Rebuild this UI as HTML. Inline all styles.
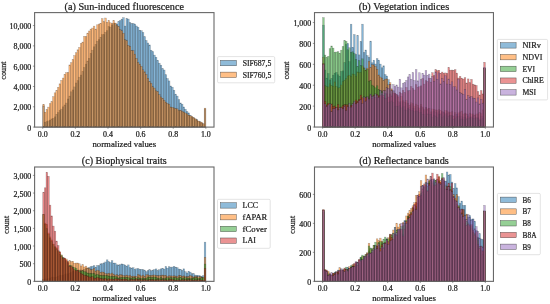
<!DOCTYPE html><html><head><meta charset="utf-8"><title>Histograms</title><style>html,body{margin:0;padding:0;background:#fff}svg{display:block}text{font-family:"Liberation Serif",serif;fill:#1a1a1a;stroke:#1a1a1a;stroke-width:0.22px}</style></head><body>
<svg width="550" height="304" viewBox="0 0 550 304">
<rect width="550" height="304" fill="#fff"/>
<g fill="#1f77b4" fill-opacity="0.55" stroke="#000000" stroke-opacity="0.3" stroke-width="0.5">
<rect x="42.75" y="105.77" width="1.63" height="21.33"/>
<rect x="44.39" y="122.22" width="1.63" height="4.88"/>
<rect x="46.02" y="121.60" width="1.63" height="5.50"/>
<rect x="47.65" y="120.90" width="1.63" height="6.20"/>
<rect x="49.28" y="120.10" width="1.63" height="7.00"/>
<rect x="50.91" y="118.88" width="1.63" height="8.22"/>
<rect x="52.54" y="118.29" width="1.63" height="8.81"/>
<rect x="54.17" y="116.84" width="1.63" height="10.26"/>
<rect x="55.80" y="114.38" width="1.63" height="12.72"/>
<rect x="57.43" y="112.48" width="1.63" height="14.62"/>
<rect x="59.06" y="110.40" width="1.63" height="16.70"/>
<rect x="60.69" y="109.12" width="1.63" height="17.98"/>
<rect x="62.33" y="106.82" width="1.63" height="20.28"/>
<rect x="63.96" y="104.95" width="1.63" height="22.15"/>
<rect x="65.59" y="103.01" width="1.63" height="24.09"/>
<rect x="67.22" y="98.96" width="1.63" height="28.14"/>
<rect x="68.85" y="96.06" width="1.63" height="31.04"/>
<rect x="70.48" y="91.80" width="1.63" height="35.30"/>
<rect x="72.11" y="89.88" width="1.63" height="37.22"/>
<rect x="73.74" y="86.91" width="1.63" height="40.19"/>
<rect x="75.37" y="82.97" width="1.63" height="44.13"/>
<rect x="77.00" y="80.66" width="1.63" height="46.44"/>
<rect x="78.63" y="77.16" width="1.63" height="49.94"/>
<rect x="80.27" y="75.03" width="1.63" height="52.07"/>
<rect x="81.90" y="71.44" width="1.63" height="55.66"/>
<rect x="83.53" y="67.45" width="1.63" height="59.65"/>
<rect x="85.16" y="64.12" width="1.63" height="62.98"/>
<rect x="86.79" y="60.99" width="1.63" height="66.11"/>
<rect x="88.42" y="58.34" width="1.63" height="68.76"/>
<rect x="90.05" y="53.32" width="1.63" height="73.78"/>
<rect x="91.68" y="50.18" width="1.63" height="76.92"/>
<rect x="93.31" y="46.81" width="1.63" height="80.29"/>
<rect x="94.94" y="44.47" width="1.63" height="82.63"/>
<rect x="96.57" y="41.13" width="1.63" height="85.97"/>
<rect x="98.21" y="39.69" width="1.63" height="87.41"/>
<rect x="99.84" y="37.21" width="1.63" height="89.89"/>
<rect x="101.47" y="34.68" width="1.63" height="92.42"/>
<rect x="103.10" y="34.46" width="1.63" height="92.64"/>
<rect x="104.73" y="32.21" width="1.63" height="94.89"/>
<rect x="106.36" y="30.72" width="1.63" height="96.38"/>
<rect x="107.99" y="26.60" width="1.63" height="100.50"/>
<rect x="109.62" y="27.01" width="1.63" height="100.09"/>
<rect x="111.25" y="24.89" width="1.63" height="102.21"/>
<rect x="112.88" y="23.73" width="1.63" height="103.37"/>
<rect x="114.51" y="23.54" width="1.63" height="103.56"/>
<rect x="116.15" y="24.01" width="1.63" height="103.09"/>
<rect x="117.78" y="21.49" width="1.63" height="105.61"/>
<rect x="119.41" y="20.47" width="1.63" height="106.63"/>
<rect x="121.04" y="19.13" width="1.63" height="107.97"/>
<rect x="122.67" y="17.68" width="1.63" height="109.42"/>
<rect x="124.30" y="26.06" width="1.63" height="101.04"/>
<rect x="125.93" y="18.44" width="1.63" height="108.66"/>
<rect x="127.56" y="19.05" width="1.63" height="108.05"/>
<rect x="129.19" y="22.46" width="1.63" height="104.64"/>
<rect x="130.82" y="23.64" width="1.63" height="103.46"/>
<rect x="132.45" y="23.46" width="1.63" height="103.64"/>
<rect x="134.09" y="24.04" width="1.63" height="103.06"/>
<rect x="135.72" y="25.98" width="1.63" height="101.12"/>
<rect x="137.35" y="27.20" width="1.63" height="99.90"/>
<rect x="138.98" y="30.21" width="1.63" height="96.89"/>
<rect x="140.61" y="30.72" width="1.63" height="96.38"/>
<rect x="142.24" y="32.43" width="1.63" height="94.67"/>
<rect x="143.87" y="36.73" width="1.63" height="90.37"/>
<rect x="145.50" y="40.46" width="1.63" height="86.64"/>
<rect x="147.13" y="43.02" width="1.63" height="84.08"/>
<rect x="148.76" y="44.93" width="1.63" height="82.17"/>
<rect x="150.39" y="50.22" width="1.63" height="76.88"/>
<rect x="152.03" y="51.55" width="1.63" height="75.55"/>
<rect x="153.66" y="55.12" width="1.63" height="71.98"/>
<rect x="155.29" y="57.27" width="1.63" height="69.83"/>
<rect x="156.92" y="60.26" width="1.63" height="66.84"/>
<rect x="158.55" y="63.18" width="1.63" height="63.92"/>
<rect x="160.18" y="65.21" width="1.63" height="61.89"/>
<rect x="161.81" y="68.59" width="1.63" height="58.51"/>
<rect x="163.44" y="70.04" width="1.63" height="57.06"/>
<rect x="165.07" y="74.73" width="1.63" height="52.37"/>
<rect x="166.70" y="78.54" width="1.63" height="48.56"/>
<rect x="168.33" y="80.92" width="1.63" height="46.18"/>
<rect x="169.97" y="85.97" width="1.63" height="41.13"/>
<rect x="171.60" y="87.19" width="1.63" height="39.91"/>
<rect x="173.23" y="90.24" width="1.63" height="36.86"/>
<rect x="174.86" y="94.18" width="1.63" height="32.92"/>
<rect x="176.49" y="96.11" width="1.63" height="30.99"/>
<rect x="178.12" y="99.59" width="1.63" height="27.51"/>
<rect x="179.75" y="102.96" width="1.63" height="24.14"/>
<rect x="181.38" y="104.18" width="1.63" height="22.92"/>
<rect x="183.01" y="106.96" width="1.63" height="20.14"/>
<rect x="184.64" y="109.23" width="1.63" height="17.87"/>
<rect x="186.27" y="111.45" width="1.63" height="15.65"/>
<rect x="187.91" y="112.87" width="1.63" height="14.23"/>
<rect x="189.54" y="115.23" width="1.63" height="11.87"/>
<rect x="191.17" y="116.99" width="1.63" height="10.11"/>
<rect x="192.80" y="117.83" width="1.63" height="9.27"/>
<rect x="194.43" y="119.43" width="1.63" height="7.67"/>
<rect x="196.06" y="119.55" width="1.63" height="7.55"/>
<rect x="197.69" y="121.18" width="1.63" height="5.92"/>
<rect x="199.32" y="121.82" width="1.63" height="5.28"/>
<rect x="200.95" y="123.02" width="1.63" height="4.08"/>
<rect x="202.58" y="123.83" width="1.63" height="3.27"/>
<rect x="204.21" y="108.82" width="1.63" height="18.28"/>
</g>
<g fill="#ff7f0e" fill-opacity="0.55" stroke="#000000" stroke-opacity="0.3" stroke-width="0.5">
<rect x="42.75" y="104.25" width="1.63" height="22.85"/>
<rect x="44.39" y="112.23" width="1.63" height="14.87"/>
<rect x="46.02" y="109.42" width="1.63" height="17.68"/>
<rect x="47.65" y="107.13" width="1.63" height="19.97"/>
<rect x="49.28" y="103.60" width="1.63" height="23.50"/>
<rect x="50.91" y="101.54" width="1.63" height="25.56"/>
<rect x="52.54" y="96.69" width="1.63" height="30.41"/>
<rect x="54.17" y="92.79" width="1.63" height="34.31"/>
<rect x="55.80" y="90.36" width="1.63" height="36.74"/>
<rect x="57.43" y="87.32" width="1.63" height="39.78"/>
<rect x="59.06" y="83.81" width="1.63" height="43.29"/>
<rect x="60.69" y="80.41" width="1.63" height="46.69"/>
<rect x="62.33" y="78.06" width="1.63" height="49.04"/>
<rect x="63.96" y="74.31" width="1.63" height="52.79"/>
<rect x="65.59" y="72.65" width="1.63" height="54.45"/>
<rect x="67.22" y="72.46" width="1.63" height="54.64"/>
<rect x="68.85" y="64.93" width="1.63" height="62.17"/>
<rect x="70.48" y="62.63" width="1.63" height="64.47"/>
<rect x="72.11" y="59.37" width="1.63" height="67.73"/>
<rect x="73.74" y="55.61" width="1.63" height="71.49"/>
<rect x="75.37" y="52.73" width="1.63" height="74.37"/>
<rect x="77.00" y="49.77" width="1.63" height="77.33"/>
<rect x="78.63" y="47.39" width="1.63" height="79.71"/>
<rect x="80.27" y="43.34" width="1.63" height="83.76"/>
<rect x="81.90" y="42.07" width="1.63" height="85.03"/>
<rect x="83.53" y="36.36" width="1.63" height="90.74"/>
<rect x="85.16" y="36.57" width="1.63" height="90.53"/>
<rect x="86.79" y="33.15" width="1.63" height="93.95"/>
<rect x="88.42" y="30.98" width="1.63" height="96.12"/>
<rect x="90.05" y="29.13" width="1.63" height="97.97"/>
<rect x="91.68" y="28.07" width="1.63" height="99.03"/>
<rect x="93.31" y="26.13" width="1.63" height="100.97"/>
<rect x="94.94" y="29.11" width="1.63" height="97.99"/>
<rect x="96.57" y="24.80" width="1.63" height="102.30"/>
<rect x="98.21" y="24.04" width="1.63" height="103.06"/>
<rect x="99.84" y="23.23" width="1.63" height="103.87"/>
<rect x="101.47" y="18.64" width="1.63" height="108.46"/>
<rect x="103.10" y="21.55" width="1.63" height="105.55"/>
<rect x="104.73" y="18.03" width="1.63" height="109.07"/>
<rect x="106.36" y="22.31" width="1.63" height="104.79"/>
<rect x="107.99" y="20.35" width="1.63" height="106.75"/>
<rect x="109.62" y="22.78" width="1.63" height="104.32"/>
<rect x="111.25" y="23.46" width="1.63" height="103.64"/>
<rect x="112.88" y="20.32" width="1.63" height="106.78"/>
<rect x="114.51" y="23.05" width="1.63" height="104.05"/>
<rect x="116.15" y="25.18" width="1.63" height="101.92"/>
<rect x="117.78" y="26.38" width="1.63" height="100.72"/>
<rect x="119.41" y="29.45" width="1.63" height="97.65"/>
<rect x="121.04" y="30.74" width="1.63" height="96.36"/>
<rect x="122.67" y="33.22" width="1.63" height="93.88"/>
<rect x="124.30" y="39.63" width="1.63" height="87.47"/>
<rect x="125.93" y="40.55" width="1.63" height="86.55"/>
<rect x="127.56" y="45.34" width="1.63" height="81.76"/>
<rect x="129.19" y="46.48" width="1.63" height="80.62"/>
<rect x="130.82" y="50.38" width="1.63" height="76.72"/>
<rect x="132.45" y="50.62" width="1.63" height="76.48"/>
<rect x="134.09" y="54.20" width="1.63" height="72.90"/>
<rect x="135.72" y="58.43" width="1.63" height="68.67"/>
<rect x="137.35" y="62.38" width="1.63" height="64.72"/>
<rect x="138.98" y="64.21" width="1.63" height="62.89"/>
<rect x="140.61" y="66.36" width="1.63" height="60.74"/>
<rect x="142.24" y="69.78" width="1.63" height="57.32"/>
<rect x="143.87" y="71.76" width="1.63" height="55.34"/>
<rect x="145.50" y="74.41" width="1.63" height="52.69"/>
<rect x="147.13" y="78.34" width="1.63" height="48.76"/>
<rect x="148.76" y="81.46" width="1.63" height="45.64"/>
<rect x="150.39" y="83.29" width="1.63" height="43.81"/>
<rect x="152.03" y="86.67" width="1.63" height="40.43"/>
<rect x="153.66" y="88.11" width="1.63" height="38.99"/>
<rect x="155.29" y="90.80" width="1.63" height="36.30"/>
<rect x="156.92" y="91.59" width="1.63" height="35.51"/>
<rect x="158.55" y="94.65" width="1.63" height="32.45"/>
<rect x="160.18" y="96.99" width="1.63" height="30.11"/>
<rect x="161.81" y="98.25" width="1.63" height="28.85"/>
<rect x="163.44" y="100.34" width="1.63" height="26.76"/>
<rect x="165.07" y="102.13" width="1.63" height="24.97"/>
<rect x="166.70" y="103.35" width="1.63" height="23.75"/>
<rect x="168.33" y="104.27" width="1.63" height="22.83"/>
<rect x="169.97" y="106.96" width="1.63" height="20.14"/>
<rect x="171.60" y="107.27" width="1.63" height="19.83"/>
<rect x="173.23" y="107.96" width="1.63" height="19.14"/>
<rect x="174.86" y="108.60" width="1.63" height="18.50"/>
<rect x="176.49" y="108.83" width="1.63" height="18.27"/>
<rect x="178.12" y="110.38" width="1.63" height="16.72"/>
<rect x="179.75" y="110.20" width="1.63" height="16.90"/>
<rect x="181.38" y="111.23" width="1.63" height="15.87"/>
<rect x="183.01" y="111.95" width="1.63" height="15.15"/>
<rect x="184.64" y="112.94" width="1.63" height="14.16"/>
<rect x="186.27" y="113.88" width="1.63" height="13.22"/>
<rect x="187.91" y="115.04" width="1.63" height="12.06"/>
<rect x="189.54" y="115.81" width="1.63" height="11.29"/>
<rect x="191.17" y="116.34" width="1.63" height="10.76"/>
<rect x="192.80" y="117.66" width="1.63" height="9.44"/>
<rect x="194.43" y="118.69" width="1.63" height="8.41"/>
<rect x="196.06" y="119.77" width="1.63" height="7.33"/>
<rect x="197.69" y="121.05" width="1.63" height="6.05"/>
<rect x="199.32" y="121.80" width="1.63" height="5.30"/>
<rect x="200.95" y="122.31" width="1.63" height="4.79"/>
<rect x="202.58" y="123.81" width="1.63" height="3.29"/>
<rect x="204.21" y="108.16" width="1.63" height="18.94"/>
</g>
<line x1="42.75" y1="127.1" x2="205.85" y2="127.1" stroke="#2a1a10" stroke-opacity="0.45" stroke-width="0.9"/>
<rect x="34.6" y="12.6" width="179.4" height="114.5" fill="none" stroke="#686868" stroke-width="1.1"/>
<line x1="42.75" y1="127.1" x2="42.75" y2="128.79999999999998" stroke="#555" stroke-width="0.6"/>
<text x="42.75" y="137.10" font-size="7.5" text-anchor="middle" textLength="9.88" lengthAdjust="spacingAndGlyphs">0.0</text>
<line x1="75.37" y1="127.1" x2="75.37" y2="128.79999999999998" stroke="#555" stroke-width="0.6"/>
<text x="75.37" y="137.10" font-size="7.5" text-anchor="middle" textLength="9.88" lengthAdjust="spacingAndGlyphs">0.2</text>
<line x1="107.99" y1="127.1" x2="107.99" y2="128.79999999999998" stroke="#555" stroke-width="0.6"/>
<text x="107.99" y="137.10" font-size="7.5" text-anchor="middle" textLength="9.88" lengthAdjust="spacingAndGlyphs">0.4</text>
<line x1="140.61" y1="127.1" x2="140.61" y2="128.79999999999998" stroke="#555" stroke-width="0.6"/>
<text x="140.61" y="137.10" font-size="7.5" text-anchor="middle" textLength="9.88" lengthAdjust="spacingAndGlyphs">0.6</text>
<line x1="173.23" y1="127.1" x2="173.23" y2="128.79999999999998" stroke="#555" stroke-width="0.6"/>
<text x="173.23" y="137.10" font-size="7.5" text-anchor="middle" textLength="9.88" lengthAdjust="spacingAndGlyphs">0.8</text>
<line x1="205.85" y1="127.1" x2="205.85" y2="128.79999999999998" stroke="#555" stroke-width="0.6"/>
<text x="205.85" y="137.10" font-size="7.5" text-anchor="middle" textLength="9.88" lengthAdjust="spacingAndGlyphs">1.0</text>
<line x1="32.9" y1="127.10" x2="34.6" y2="127.10" stroke="#555" stroke-width="0.6"/>
 <text x="31.30" y="130.60" font-size="7.5" text-anchor="end" textLength="3.95" lengthAdjust="spacingAndGlyphs">0</text>
<line x1="32.9" y1="106.79" x2="34.6" y2="106.79" stroke="#555" stroke-width="0.6"/>
 <text x="31.30" y="110.29" font-size="7.5" text-anchor="end" textLength="17.78" lengthAdjust="spacingAndGlyphs">2,000</text>
<line x1="32.9" y1="86.48" x2="34.6" y2="86.48" stroke="#555" stroke-width="0.6"/>
 <text x="31.30" y="89.98" font-size="7.5" text-anchor="end" textLength="17.78" lengthAdjust="spacingAndGlyphs">4,000</text>
<line x1="32.9" y1="66.17" x2="34.6" y2="66.17" stroke="#555" stroke-width="0.6"/>
 <text x="31.30" y="69.67" font-size="7.5" text-anchor="end" textLength="17.78" lengthAdjust="spacingAndGlyphs">6,000</text>
<line x1="32.9" y1="45.86" x2="34.6" y2="45.86" stroke="#555" stroke-width="0.6"/>
 <text x="31.30" y="49.36" font-size="7.5" text-anchor="end" textLength="17.78" lengthAdjust="spacingAndGlyphs">8,000</text>
<line x1="32.9" y1="25.55" x2="34.6" y2="25.55" stroke="#555" stroke-width="0.6"/>
 <text x="31.30" y="29.05" font-size="7.5" text-anchor="end" textLength="21.73" lengthAdjust="spacingAndGlyphs">10,000</text>
<text x="124.30" y="146.90" font-size="8.6" text-anchor="middle" textLength="63.6" lengthAdjust="spacingAndGlyphs">normalized values</text>
<text transform="translate(5.5,70.55) rotate(-90)" font-size="8.6" text-anchor="middle" textLength="18.2" lengthAdjust="spacingAndGlyphs">count</text>
<text x="124.30" y="9.80" font-size="10.2" text-anchor="middle" textLength="119.4" lengthAdjust="spacingAndGlyphs">(a) Sun-induced fluorescence</text>
<rect x="217.6" y="56.6" width="57.1" height="26.2" rx="1.2" fill="#fff" stroke="#d0d0d0" stroke-width="0.6"/>
<rect x="220.60" y="60.38" width="15.8" height="5.4" fill="#1f77b4" fill-opacity="0.5" stroke="#222" stroke-opacity="0.8" stroke-width="0.45"/>
<text x="242.70" y="65.78" font-size="8.0" textLength="28.6" lengthAdjust="spacingAndGlyphs">SIF687,5</text>
<rect x="220.60" y="72.12" width="15.8" height="5.4" fill="#ff7f0e" fill-opacity="0.5" stroke="#222" stroke-opacity="0.8" stroke-width="0.45"/>
<text x="242.70" y="77.53" font-size="8.0" textLength="28.6" lengthAdjust="spacingAndGlyphs">SIF760,5</text>
<g fill="#1f77b4" fill-opacity="0.55" stroke="#000000" stroke-opacity="0.3" stroke-width="0.5">
<rect x="322.63" y="25.14" width="1.63" height="101.91"/>
<rect x="324.26" y="70.07" width="1.63" height="56.98"/>
<rect x="325.89" y="78.10" width="1.63" height="48.95"/>
<rect x="327.51" y="73.54" width="1.63" height="53.51"/>
<rect x="329.14" y="79.96" width="1.63" height="47.09"/>
<rect x="330.77" y="78.53" width="1.63" height="48.52"/>
<rect x="332.39" y="75.16" width="1.63" height="51.89"/>
<rect x="334.02" y="73.22" width="1.63" height="53.83"/>
<rect x="335.65" y="72.37" width="1.63" height="54.68"/>
<rect x="337.28" y="74.76" width="1.63" height="52.29"/>
<rect x="338.90" y="76.32" width="1.63" height="50.73"/>
<rect x="340.53" y="71.42" width="1.63" height="55.63"/>
<rect x="342.16" y="70.86" width="1.63" height="56.19"/>
<rect x="343.78" y="62.74" width="1.63" height="64.31"/>
<rect x="345.41" y="44.48" width="1.63" height="82.57"/>
<rect x="347.04" y="43.43" width="1.63" height="83.62"/>
<rect x="348.66" y="61.58" width="1.63" height="65.47"/>
<rect x="350.29" y="24.20" width="1.63" height="102.85"/>
<rect x="351.92" y="47.35" width="1.63" height="79.70"/>
<rect x="353.54" y="34.55" width="1.63" height="92.50"/>
<rect x="355.17" y="54.47" width="1.63" height="72.58"/>
<rect x="356.80" y="35.39" width="1.63" height="91.66"/>
<rect x="358.42" y="54.88" width="1.63" height="72.17"/>
<rect x="360.05" y="41.34" width="1.63" height="85.71"/>
<rect x="361.68" y="24.20" width="1.63" height="102.85"/>
<rect x="363.30" y="52.41" width="1.63" height="74.64"/>
<rect x="364.93" y="50.02" width="1.63" height="77.03"/>
<rect x="366.56" y="55.61" width="1.63" height="71.44"/>
<rect x="368.19" y="57.32" width="1.63" height="69.73"/>
<rect x="369.81" y="41.13" width="1.63" height="85.92"/>
<rect x="371.44" y="62.75" width="1.63" height="64.30"/>
<rect x="373.07" y="60.21" width="1.63" height="66.84"/>
<rect x="374.69" y="64.02" width="1.63" height="63.03"/>
<rect x="376.32" y="58.59" width="1.63" height="68.46"/>
<rect x="377.95" y="60.16" width="1.63" height="66.89"/>
<rect x="379.57" y="64.12" width="1.63" height="62.93"/>
<rect x="381.20" y="67.76" width="1.63" height="59.29"/>
<rect x="382.83" y="65.78" width="1.63" height="61.27"/>
<rect x="384.45" y="74.62" width="1.63" height="52.43"/>
<rect x="386.08" y="76.00" width="1.63" height="51.05"/>
<rect x="387.71" y="79.62" width="1.63" height="47.43"/>
<rect x="389.33" y="84.43" width="1.63" height="42.62"/>
<rect x="390.96" y="90.65" width="1.63" height="36.40"/>
<rect x="392.59" y="90.47" width="1.63" height="36.58"/>
<rect x="394.21" y="94.28" width="1.63" height="32.77"/>
<rect x="395.84" y="96.61" width="1.63" height="30.44"/>
<rect x="397.47" y="101.58" width="1.63" height="25.47"/>
<rect x="399.09" y="102.98" width="1.63" height="24.07"/>
<rect x="400.72" y="101.64" width="1.63" height="25.41"/>
<rect x="402.35" y="101.64" width="1.63" height="25.41"/>
<rect x="403.97" y="106.54" width="1.63" height="20.51"/>
<rect x="405.60" y="102.88" width="1.63" height="24.17"/>
<rect x="407.23" y="108.46" width="1.63" height="18.59"/>
<rect x="408.86" y="106.83" width="1.63" height="20.22"/>
<rect x="410.48" y="104.68" width="1.63" height="22.37"/>
<rect x="412.11" y="107.98" width="1.63" height="19.07"/>
<rect x="413.74" y="108.10" width="1.63" height="18.95"/>
<rect x="415.36" y="110.56" width="1.63" height="16.49"/>
<rect x="416.99" y="107.69" width="1.63" height="19.36"/>
<rect x="418.62" y="109.97" width="1.63" height="17.08"/>
<rect x="420.24" y="106.52" width="1.63" height="20.53"/>
<rect x="421.87" y="108.12" width="1.63" height="18.93"/>
<rect x="423.50" y="110.65" width="1.63" height="16.40"/>
<rect x="425.12" y="107.24" width="1.63" height="19.81"/>
<rect x="426.75" y="109.81" width="1.63" height="17.24"/>
<rect x="428.38" y="108.44" width="1.63" height="18.61"/>
<rect x="430.00" y="113.84" width="1.63" height="13.21"/>
<rect x="431.63" y="111.79" width="1.63" height="15.26"/>
<rect x="433.26" y="111.01" width="1.63" height="16.04"/>
<rect x="434.88" y="111.82" width="1.63" height="15.23"/>
<rect x="436.51" y="112.75" width="1.63" height="14.30"/>
<rect x="438.14" y="111.72" width="1.63" height="15.33"/>
<rect x="439.76" y="113.52" width="1.63" height="13.53"/>
<rect x="441.39" y="112.45" width="1.63" height="14.60"/>
<rect x="443.02" y="111.93" width="1.63" height="15.12"/>
<rect x="444.65" y="113.07" width="1.63" height="13.98"/>
<rect x="446.27" y="113.60" width="1.63" height="13.45"/>
<rect x="447.90" y="112.98" width="1.63" height="14.07"/>
<rect x="449.53" y="115.21" width="1.63" height="11.84"/>
<rect x="451.15" y="116.82" width="1.63" height="10.23"/>
<rect x="452.78" y="116.70" width="1.63" height="10.35"/>
<rect x="454.41" y="113.91" width="1.63" height="13.14"/>
<rect x="456.03" y="114.19" width="1.63" height="12.86"/>
<rect x="457.66" y="113.83" width="1.63" height="13.22"/>
<rect x="459.29" y="115.85" width="1.63" height="11.20"/>
<rect x="460.91" y="116.62" width="1.63" height="10.43"/>
<rect x="462.54" y="117.01" width="1.63" height="10.04"/>
<rect x="464.17" y="113.78" width="1.63" height="13.27"/>
<rect x="465.79" y="117.93" width="1.63" height="9.12"/>
<rect x="467.42" y="114.63" width="1.63" height="12.42"/>
<rect x="469.05" y="117.25" width="1.63" height="9.80"/>
<rect x="470.67" y="116.68" width="1.63" height="10.37"/>
<rect x="472.30" y="115.74" width="1.63" height="11.31"/>
<rect x="473.93" y="115.39" width="1.63" height="11.66"/>
<rect x="475.55" y="117.33" width="1.63" height="9.72"/>
<rect x="477.18" y="117.63" width="1.63" height="9.42"/>
<rect x="478.81" y="119.05" width="1.63" height="8.00"/>
<rect x="480.44" y="116.11" width="1.63" height="10.94"/>
<rect x="482.06" y="116.42" width="1.63" height="10.63"/>
<rect x="483.69" y="68.52" width="1.63" height="58.53"/>
</g>
<g fill="#ff7f0e" fill-opacity="0.55" stroke="#000000" stroke-opacity="0.3" stroke-width="0.5">
<rect x="322.63" y="57.23" width="1.63" height="69.82"/>
<rect x="324.26" y="85.60" width="1.63" height="41.45"/>
<rect x="325.89" y="86.58" width="1.63" height="40.47"/>
<rect x="327.51" y="86.93" width="1.63" height="40.12"/>
<rect x="329.14" y="83.86" width="1.63" height="43.19"/>
<rect x="330.77" y="85.66" width="1.63" height="41.39"/>
<rect x="332.39" y="86.27" width="1.63" height="40.78"/>
<rect x="334.02" y="81.81" width="1.63" height="45.24"/>
<rect x="335.65" y="86.47" width="1.63" height="40.58"/>
<rect x="337.28" y="87.95" width="1.63" height="39.10"/>
<rect x="338.90" y="87.67" width="1.63" height="39.38"/>
<rect x="340.53" y="84.99" width="1.63" height="42.06"/>
<rect x="342.16" y="81.54" width="1.63" height="45.51"/>
<rect x="343.78" y="80.19" width="1.63" height="46.86"/>
<rect x="345.41" y="78.58" width="1.63" height="48.47"/>
<rect x="347.04" y="75.95" width="1.63" height="51.10"/>
<rect x="348.66" y="75.17" width="1.63" height="51.88"/>
<rect x="350.29" y="76.51" width="1.63" height="50.54"/>
<rect x="351.92" y="73.89" width="1.63" height="53.16"/>
<rect x="353.54" y="74.39" width="1.63" height="52.66"/>
<rect x="355.17" y="76.19" width="1.63" height="50.86"/>
<rect x="356.80" y="71.89" width="1.63" height="55.16"/>
<rect x="358.42" y="72.66" width="1.63" height="54.39"/>
<rect x="360.05" y="72.29" width="1.63" height="54.76"/>
<rect x="361.68" y="65.90" width="1.63" height="61.15"/>
<rect x="363.30" y="67.92" width="1.63" height="59.13"/>
<rect x="364.93" y="70.07" width="1.63" height="56.98"/>
<rect x="366.56" y="68.19" width="1.63" height="58.86"/>
<rect x="368.19" y="61.31" width="1.63" height="65.74"/>
<rect x="369.81" y="67.35" width="1.63" height="59.70"/>
<rect x="371.44" y="64.69" width="1.63" height="62.36"/>
<rect x="373.07" y="64.80" width="1.63" height="62.25"/>
<rect x="374.69" y="66.52" width="1.63" height="60.53"/>
<rect x="376.32" y="69.38" width="1.63" height="57.67"/>
<rect x="377.95" y="74.99" width="1.63" height="52.06"/>
<rect x="379.57" y="77.03" width="1.63" height="50.02"/>
<rect x="381.20" y="78.19" width="1.63" height="48.86"/>
<rect x="382.83" y="80.32" width="1.63" height="46.73"/>
<rect x="384.45" y="79.13" width="1.63" height="47.92"/>
<rect x="386.08" y="78.88" width="1.63" height="48.17"/>
<rect x="387.71" y="84.82" width="1.63" height="42.23"/>
<rect x="389.33" y="82.58" width="1.63" height="44.47"/>
<rect x="390.96" y="88.81" width="1.63" height="38.24"/>
<rect x="392.59" y="91.18" width="1.63" height="35.87"/>
<rect x="394.21" y="93.28" width="1.63" height="33.77"/>
<rect x="395.84" y="94.76" width="1.63" height="32.29"/>
<rect x="397.47" y="97.02" width="1.63" height="30.03"/>
<rect x="399.09" y="102.12" width="1.63" height="24.93"/>
<rect x="400.72" y="96.32" width="1.63" height="30.73"/>
<rect x="402.35" y="100.45" width="1.63" height="26.60"/>
<rect x="403.97" y="102.00" width="1.63" height="25.05"/>
<rect x="405.60" y="100.46" width="1.63" height="26.59"/>
<rect x="407.23" y="103.21" width="1.63" height="23.84"/>
<rect x="408.86" y="105.18" width="1.63" height="21.87"/>
<rect x="410.48" y="102.75" width="1.63" height="24.30"/>
<rect x="412.11" y="103.51" width="1.63" height="23.54"/>
<rect x="413.74" y="106.03" width="1.63" height="21.02"/>
<rect x="415.36" y="104.00" width="1.63" height="23.05"/>
<rect x="416.99" y="105.24" width="1.63" height="21.81"/>
<rect x="418.62" y="108.01" width="1.63" height="19.04"/>
<rect x="420.24" y="104.28" width="1.63" height="22.77"/>
<rect x="421.87" y="106.98" width="1.63" height="20.07"/>
<rect x="423.50" y="109.52" width="1.63" height="17.53"/>
<rect x="425.12" y="107.78" width="1.63" height="19.27"/>
<rect x="426.75" y="108.77" width="1.63" height="18.28"/>
<rect x="428.38" y="108.14" width="1.63" height="18.91"/>
<rect x="430.00" y="111.81" width="1.63" height="15.24"/>
<rect x="431.63" y="108.96" width="1.63" height="18.09"/>
<rect x="433.26" y="109.29" width="1.63" height="17.76"/>
<rect x="434.88" y="109.81" width="1.63" height="17.24"/>
<rect x="436.51" y="110.12" width="1.63" height="16.93"/>
<rect x="438.14" y="109.39" width="1.63" height="17.66"/>
<rect x="439.76" y="110.37" width="1.63" height="16.68"/>
<rect x="441.39" y="111.33" width="1.63" height="15.72"/>
<rect x="443.02" y="112.76" width="1.63" height="14.29"/>
<rect x="444.65" y="110.46" width="1.63" height="16.59"/>
<rect x="446.27" y="110.82" width="1.63" height="16.23"/>
<rect x="447.90" y="111.88" width="1.63" height="15.17"/>
<rect x="449.53" y="112.23" width="1.63" height="14.82"/>
<rect x="451.15" y="111.65" width="1.63" height="15.40"/>
<rect x="452.78" y="115.80" width="1.63" height="11.25"/>
<rect x="454.41" y="112.42" width="1.63" height="14.63"/>
<rect x="456.03" y="116.01" width="1.63" height="11.04"/>
<rect x="457.66" y="112.78" width="1.63" height="14.27"/>
<rect x="459.29" y="111.92" width="1.63" height="15.13"/>
<rect x="460.91" y="111.04" width="1.63" height="16.01"/>
<rect x="462.54" y="114.03" width="1.63" height="13.02"/>
<rect x="464.17" y="113.08" width="1.63" height="13.97"/>
<rect x="465.79" y="113.81" width="1.63" height="13.24"/>
<rect x="467.42" y="116.50" width="1.63" height="10.55"/>
<rect x="469.05" y="113.06" width="1.63" height="13.99"/>
<rect x="470.67" y="113.95" width="1.63" height="13.10"/>
<rect x="472.30" y="113.85" width="1.63" height="13.20"/>
<rect x="473.93" y="115.04" width="1.63" height="12.01"/>
<rect x="475.55" y="113.98" width="1.63" height="13.07"/>
<rect x="477.18" y="113.83" width="1.63" height="13.22"/>
<rect x="478.81" y="112.41" width="1.63" height="14.64"/>
<rect x="480.44" y="113.58" width="1.63" height="13.47"/>
<rect x="482.06" y="109.79" width="1.63" height="17.26"/>
<rect x="483.69" y="68.31" width="1.63" height="58.74"/>
</g>
<g fill="#2ca02c" fill-opacity="0.55" stroke="#000000" stroke-opacity="0.3" stroke-width="0.5">
<rect x="322.63" y="17.62" width="1.63" height="109.43"/>
<rect x="324.26" y="55.07" width="1.63" height="71.98"/>
<rect x="325.89" y="57.37" width="1.63" height="69.68"/>
<rect x="327.51" y="56.36" width="1.63" height="70.69"/>
<rect x="329.14" y="48.70" width="1.63" height="78.35"/>
<rect x="330.77" y="45.98" width="1.63" height="81.07"/>
<rect x="332.39" y="48.13" width="1.63" height="78.92"/>
<rect x="334.02" y="52.31" width="1.63" height="74.74"/>
<rect x="335.65" y="52.00" width="1.63" height="75.05"/>
<rect x="337.28" y="51.63" width="1.63" height="75.42"/>
<rect x="338.90" y="53.23" width="1.63" height="73.82"/>
<rect x="340.53" y="50.17" width="1.63" height="76.88"/>
<rect x="342.16" y="46.41" width="1.63" height="80.64"/>
<rect x="343.78" y="40.41" width="1.63" height="86.64"/>
<rect x="345.41" y="41.32" width="1.63" height="85.73"/>
<rect x="347.04" y="49.75" width="1.63" height="77.30"/>
<rect x="348.66" y="47.75" width="1.63" height="79.30"/>
<rect x="350.29" y="52.32" width="1.63" height="74.73"/>
<rect x="351.92" y="51.75" width="1.63" height="75.30"/>
<rect x="353.54" y="53.66" width="1.63" height="73.39"/>
<rect x="355.17" y="59.45" width="1.63" height="67.60"/>
<rect x="356.80" y="66.45" width="1.63" height="60.60"/>
<rect x="358.42" y="60.69" width="1.63" height="66.36"/>
<rect x="360.05" y="65.66" width="1.63" height="61.39"/>
<rect x="361.68" y="58.83" width="1.63" height="68.22"/>
<rect x="363.30" y="68.14" width="1.63" height="58.91"/>
<rect x="364.93" y="70.51" width="1.63" height="56.54"/>
<rect x="366.56" y="69.30" width="1.63" height="57.75"/>
<rect x="368.19" y="81.27" width="1.63" height="45.78"/>
<rect x="369.81" y="80.47" width="1.63" height="46.58"/>
<rect x="371.44" y="85.09" width="1.63" height="41.96"/>
<rect x="373.07" y="86.10" width="1.63" height="40.95"/>
<rect x="374.69" y="87.83" width="1.63" height="39.22"/>
<rect x="376.32" y="85.81" width="1.63" height="41.24"/>
<rect x="377.95" y="89.42" width="1.63" height="37.63"/>
<rect x="379.57" y="90.29" width="1.63" height="36.76"/>
<rect x="381.20" y="91.60" width="1.63" height="35.45"/>
<rect x="382.83" y="97.67" width="1.63" height="29.38"/>
<rect x="384.45" y="93.61" width="1.63" height="33.44"/>
<rect x="386.08" y="98.24" width="1.63" height="28.81"/>
<rect x="387.71" y="102.22" width="1.63" height="24.83"/>
<rect x="389.33" y="101.94" width="1.63" height="25.11"/>
<rect x="390.96" y="100.89" width="1.63" height="26.16"/>
<rect x="392.59" y="102.20" width="1.63" height="24.85"/>
<rect x="394.21" y="106.29" width="1.63" height="20.76"/>
<rect x="395.84" y="106.07" width="1.63" height="20.98"/>
<rect x="397.47" y="106.36" width="1.63" height="20.69"/>
<rect x="399.09" y="105.70" width="1.63" height="21.35"/>
<rect x="400.72" y="107.89" width="1.63" height="19.16"/>
<rect x="402.35" y="106.79" width="1.63" height="20.26"/>
<rect x="403.97" y="109.92" width="1.63" height="17.13"/>
<rect x="405.60" y="110.16" width="1.63" height="16.89"/>
<rect x="407.23" y="108.74" width="1.63" height="18.31"/>
<rect x="408.86" y="109.17" width="1.63" height="17.88"/>
<rect x="410.48" y="110.69" width="1.63" height="16.36"/>
<rect x="412.11" y="110.33" width="1.63" height="16.72"/>
<rect x="413.74" y="111.34" width="1.63" height="15.71"/>
<rect x="415.36" y="111.13" width="1.63" height="15.92"/>
<rect x="416.99" y="111.14" width="1.63" height="15.91"/>
<rect x="418.62" y="112.44" width="1.63" height="14.61"/>
<rect x="420.24" y="112.44" width="1.63" height="14.61"/>
<rect x="421.87" y="114.11" width="1.63" height="12.94"/>
<rect x="423.50" y="114.51" width="1.63" height="12.54"/>
<rect x="425.12" y="116.84" width="1.63" height="10.21"/>
<rect x="426.75" y="113.79" width="1.63" height="13.26"/>
<rect x="428.38" y="114.44" width="1.63" height="12.61"/>
<rect x="430.00" y="114.08" width="1.63" height="12.97"/>
<rect x="431.63" y="117.04" width="1.63" height="10.01"/>
<rect x="433.26" y="115.66" width="1.63" height="11.39"/>
<rect x="434.88" y="115.95" width="1.63" height="11.10"/>
<rect x="436.51" y="117.54" width="1.63" height="9.51"/>
<rect x="438.14" y="114.74" width="1.63" height="12.31"/>
<rect x="439.76" y="114.62" width="1.63" height="12.43"/>
<rect x="441.39" y="117.54" width="1.63" height="9.51"/>
<rect x="443.02" y="115.89" width="1.63" height="11.16"/>
<rect x="444.65" y="114.75" width="1.63" height="12.30"/>
<rect x="446.27" y="118.07" width="1.63" height="8.98"/>
<rect x="447.90" y="115.98" width="1.63" height="11.07"/>
<rect x="449.53" y="115.58" width="1.63" height="11.47"/>
<rect x="451.15" y="115.52" width="1.63" height="11.53"/>
<rect x="452.78" y="118.96" width="1.63" height="8.09"/>
<rect x="454.41" y="118.75" width="1.63" height="8.30"/>
<rect x="456.03" y="117.58" width="1.63" height="9.47"/>
<rect x="457.66" y="116.70" width="1.63" height="10.35"/>
<rect x="459.29" y="119.24" width="1.63" height="7.81"/>
<rect x="460.91" y="118.84" width="1.63" height="8.21"/>
<rect x="462.54" y="119.30" width="1.63" height="7.75"/>
<rect x="464.17" y="117.24" width="1.63" height="9.81"/>
<rect x="465.79" y="118.96" width="1.63" height="8.09"/>
<rect x="467.42" y="117.98" width="1.63" height="9.07"/>
<rect x="469.05" y="118.02" width="1.63" height="9.03"/>
<rect x="470.67" y="117.64" width="1.63" height="9.41"/>
<rect x="472.30" y="118.45" width="1.63" height="8.60"/>
<rect x="473.93" y="118.63" width="1.63" height="8.42"/>
<rect x="475.55" y="117.98" width="1.63" height="9.07"/>
<rect x="477.18" y="118.72" width="1.63" height="8.33"/>
<rect x="478.81" y="120.42" width="1.63" height="6.63"/>
<rect x="480.44" y="119.86" width="1.63" height="7.19"/>
<rect x="482.06" y="118.65" width="1.63" height="8.40"/>
<rect x="483.69" y="68.73" width="1.63" height="58.32"/>
</g>
<g fill="#d62728" fill-opacity="0.55" stroke="#000000" stroke-opacity="0.3" stroke-width="0.5">
<rect x="322.63" y="63.61" width="1.63" height="63.44"/>
<rect x="324.26" y="101.29" width="1.63" height="25.76"/>
<rect x="325.89" y="105.01" width="1.63" height="22.04"/>
<rect x="327.51" y="103.38" width="1.63" height="23.67"/>
<rect x="329.14" y="106.92" width="1.63" height="20.13"/>
<rect x="330.77" y="103.92" width="1.63" height="23.13"/>
<rect x="332.39" y="106.64" width="1.63" height="20.41"/>
<rect x="334.02" y="105.94" width="1.63" height="21.11"/>
<rect x="335.65" y="107.76" width="1.63" height="19.29"/>
<rect x="337.28" y="104.46" width="1.63" height="22.59"/>
<rect x="338.90" y="109.43" width="1.63" height="17.62"/>
<rect x="340.53" y="107.01" width="1.63" height="20.04"/>
<rect x="342.16" y="105.63" width="1.63" height="21.42"/>
<rect x="343.78" y="104.70" width="1.63" height="22.35"/>
<rect x="345.41" y="104.69" width="1.63" height="22.36"/>
<rect x="347.04" y="104.78" width="1.63" height="22.27"/>
<rect x="348.66" y="107.19" width="1.63" height="19.86"/>
<rect x="350.29" y="105.31" width="1.63" height="21.74"/>
<rect x="351.92" y="104.98" width="1.63" height="22.07"/>
<rect x="353.54" y="102.87" width="1.63" height="24.18"/>
<rect x="355.17" y="100.01" width="1.63" height="27.04"/>
<rect x="356.80" y="101.13" width="1.63" height="25.92"/>
<rect x="358.42" y="99.25" width="1.63" height="27.80"/>
<rect x="360.05" y="95.05" width="1.63" height="32.00"/>
<rect x="361.68" y="97.83" width="1.63" height="29.22"/>
<rect x="363.30" y="97.79" width="1.63" height="29.26"/>
<rect x="364.93" y="97.70" width="1.63" height="29.35"/>
<rect x="366.56" y="97.28" width="1.63" height="29.77"/>
<rect x="368.19" y="99.67" width="1.63" height="27.38"/>
<rect x="369.81" y="95.16" width="1.63" height="31.89"/>
<rect x="371.44" y="98.40" width="1.63" height="28.65"/>
<rect x="373.07" y="95.11" width="1.63" height="31.94"/>
<rect x="374.69" y="97.58" width="1.63" height="29.47"/>
<rect x="376.32" y="94.49" width="1.63" height="32.56"/>
<rect x="377.95" y="95.77" width="1.63" height="31.28"/>
<rect x="379.57" y="95.19" width="1.63" height="31.86"/>
<rect x="381.20" y="94.77" width="1.63" height="32.28"/>
<rect x="382.83" y="95.74" width="1.63" height="31.31"/>
<rect x="384.45" y="98.58" width="1.63" height="28.47"/>
<rect x="386.08" y="93.79" width="1.63" height="33.26"/>
<rect x="387.71" y="97.00" width="1.63" height="30.05"/>
<rect x="389.33" y="94.00" width="1.63" height="33.05"/>
<rect x="390.96" y="95.88" width="1.63" height="31.17"/>
<rect x="392.59" y="92.96" width="1.63" height="34.09"/>
<rect x="394.21" y="93.17" width="1.63" height="33.88"/>
<rect x="395.84" y="94.21" width="1.63" height="32.84"/>
<rect x="397.47" y="95.57" width="1.63" height="31.48"/>
<rect x="399.09" y="92.10" width="1.63" height="34.95"/>
<rect x="400.72" y="93.39" width="1.63" height="33.66"/>
<rect x="402.35" y="90.28" width="1.63" height="36.77"/>
<rect x="403.97" y="92.35" width="1.63" height="34.70"/>
<rect x="405.60" y="87.43" width="1.63" height="39.62"/>
<rect x="407.23" y="90.67" width="1.63" height="36.38"/>
<rect x="408.86" y="90.53" width="1.63" height="36.52"/>
<rect x="410.48" y="86.43" width="1.63" height="40.62"/>
<rect x="412.11" y="88.32" width="1.63" height="38.73"/>
<rect x="413.74" y="89.97" width="1.63" height="37.08"/>
<rect x="415.36" y="84.57" width="1.63" height="42.48"/>
<rect x="416.99" y="87.22" width="1.63" height="39.83"/>
<rect x="418.62" y="86.64" width="1.63" height="40.41"/>
<rect x="420.24" y="85.79" width="1.63" height="41.26"/>
<rect x="421.87" y="78.56" width="1.63" height="48.49"/>
<rect x="423.50" y="84.09" width="1.63" height="42.96"/>
<rect x="425.12" y="80.54" width="1.63" height="46.51"/>
<rect x="426.75" y="81.57" width="1.63" height="45.48"/>
<rect x="428.38" y="78.10" width="1.63" height="48.95"/>
<rect x="430.00" y="81.99" width="1.63" height="45.06"/>
<rect x="431.63" y="72.68" width="1.63" height="54.37"/>
<rect x="433.26" y="75.42" width="1.63" height="51.63"/>
<rect x="434.88" y="69.59" width="1.63" height="57.46"/>
<rect x="436.51" y="70.64" width="1.63" height="56.41"/>
<rect x="438.14" y="70.25" width="1.63" height="56.80"/>
<rect x="439.76" y="73.25" width="1.63" height="53.80"/>
<rect x="441.39" y="72.06" width="1.63" height="54.99"/>
<rect x="443.02" y="73.31" width="1.63" height="53.74"/>
<rect x="444.65" y="72.90" width="1.63" height="54.15"/>
<rect x="446.27" y="73.32" width="1.63" height="53.73"/>
<rect x="447.90" y="67.39" width="1.63" height="59.66"/>
<rect x="449.53" y="70.18" width="1.63" height="56.87"/>
<rect x="451.15" y="70.05" width="1.63" height="57.00"/>
<rect x="452.78" y="70.37" width="1.63" height="56.68"/>
<rect x="454.41" y="69.57" width="1.63" height="57.48"/>
<rect x="456.03" y="73.10" width="1.63" height="53.95"/>
<rect x="457.66" y="78.03" width="1.63" height="49.02"/>
<rect x="459.29" y="76.35" width="1.63" height="50.70"/>
<rect x="460.91" y="78.17" width="1.63" height="48.88"/>
<rect x="462.54" y="79.03" width="1.63" height="48.02"/>
<rect x="464.17" y="77.63" width="1.63" height="49.42"/>
<rect x="465.79" y="82.96" width="1.63" height="44.09"/>
<rect x="467.42" y="78.90" width="1.63" height="48.15"/>
<rect x="469.05" y="82.66" width="1.63" height="44.39"/>
<rect x="470.67" y="79.38" width="1.63" height="47.67"/>
<rect x="472.30" y="84.19" width="1.63" height="42.86"/>
<rect x="473.93" y="84.89" width="1.63" height="42.16"/>
<rect x="475.55" y="85.47" width="1.63" height="41.58"/>
<rect x="477.18" y="91.53" width="1.63" height="35.52"/>
<rect x="478.81" y="94.94" width="1.63" height="32.11"/>
<rect x="480.44" y="90.50" width="1.63" height="36.55"/>
<rect x="482.06" y="93.89" width="1.63" height="33.16"/>
<rect x="483.69" y="62.25" width="1.63" height="64.80"/>
</g>
<g fill="#9467bd" fill-opacity="0.55" stroke="#000000" stroke-opacity="0.3" stroke-width="0.5">
<rect x="322.63" y="64.34" width="1.63" height="62.71"/>
<rect x="324.26" y="103.98" width="1.63" height="23.07"/>
<rect x="325.89" y="106.48" width="1.63" height="20.57"/>
<rect x="327.51" y="104.99" width="1.63" height="22.06"/>
<rect x="329.14" y="103.89" width="1.63" height="23.16"/>
<rect x="330.77" y="111.70" width="1.63" height="15.35"/>
<rect x="332.39" y="108.80" width="1.63" height="18.25"/>
<rect x="334.02" y="108.56" width="1.63" height="18.49"/>
<rect x="335.65" y="107.64" width="1.63" height="19.41"/>
<rect x="337.28" y="110.05" width="1.63" height="17.00"/>
<rect x="338.90" y="107.40" width="1.63" height="19.65"/>
<rect x="340.53" y="107.79" width="1.63" height="19.26"/>
<rect x="342.16" y="108.84" width="1.63" height="18.21"/>
<rect x="343.78" y="105.91" width="1.63" height="21.14"/>
<rect x="345.41" y="110.54" width="1.63" height="16.51"/>
<rect x="347.04" y="106.66" width="1.63" height="20.39"/>
<rect x="348.66" y="103.21" width="1.63" height="23.84"/>
<rect x="350.29" y="107.14" width="1.63" height="19.91"/>
<rect x="351.92" y="103.70" width="1.63" height="23.35"/>
<rect x="353.54" y="101.29" width="1.63" height="25.76"/>
<rect x="355.17" y="103.95" width="1.63" height="23.10"/>
<rect x="356.80" y="102.72" width="1.63" height="24.33"/>
<rect x="358.42" y="100.65" width="1.63" height="26.40"/>
<rect x="360.05" y="99.54" width="1.63" height="27.51"/>
<rect x="361.68" y="103.35" width="1.63" height="23.70"/>
<rect x="363.30" y="96.68" width="1.63" height="30.37"/>
<rect x="364.93" y="101.06" width="1.63" height="25.99"/>
<rect x="366.56" y="96.56" width="1.63" height="30.49"/>
<rect x="368.19" y="98.94" width="1.63" height="28.11"/>
<rect x="369.81" y="94.13" width="1.63" height="32.92"/>
<rect x="371.44" y="96.28" width="1.63" height="30.77"/>
<rect x="373.07" y="95.83" width="1.63" height="31.22"/>
<rect x="374.69" y="93.83" width="1.63" height="33.22"/>
<rect x="376.32" y="95.22" width="1.63" height="31.83"/>
<rect x="377.95" y="97.25" width="1.63" height="29.80"/>
<rect x="379.57" y="90.30" width="1.63" height="36.75"/>
<rect x="381.20" y="92.80" width="1.63" height="34.25"/>
<rect x="382.83" y="90.37" width="1.63" height="36.68"/>
<rect x="384.45" y="90.66" width="1.63" height="36.39"/>
<rect x="386.08" y="87.73" width="1.63" height="39.32"/>
<rect x="387.71" y="88.37" width="1.63" height="38.68"/>
<rect x="389.33" y="84.60" width="1.63" height="42.45"/>
<rect x="390.96" y="90.63" width="1.63" height="36.42"/>
<rect x="392.59" y="84.57" width="1.63" height="42.48"/>
<rect x="394.21" y="86.58" width="1.63" height="40.47"/>
<rect x="395.84" y="84.96" width="1.63" height="42.09"/>
<rect x="397.47" y="87.12" width="1.63" height="39.93"/>
<rect x="399.09" y="79.20" width="1.63" height="47.85"/>
<rect x="400.72" y="87.84" width="1.63" height="39.21"/>
<rect x="402.35" y="83.21" width="1.63" height="43.84"/>
<rect x="403.97" y="82.44" width="1.63" height="44.61"/>
<rect x="405.60" y="80.43" width="1.63" height="46.62"/>
<rect x="407.23" y="76.91" width="1.63" height="50.14"/>
<rect x="408.86" y="74.54" width="1.63" height="52.51"/>
<rect x="410.48" y="79.29" width="1.63" height="47.76"/>
<rect x="412.11" y="72.48" width="1.63" height="54.57"/>
<rect x="413.74" y="80.55" width="1.63" height="46.50"/>
<rect x="415.36" y="69.52" width="1.63" height="57.53"/>
<rect x="416.99" y="80.79" width="1.63" height="46.26"/>
<rect x="418.62" y="72.75" width="1.63" height="54.30"/>
<rect x="420.24" y="79.42" width="1.63" height="47.63"/>
<rect x="421.87" y="73.30" width="1.63" height="53.75"/>
<rect x="423.50" y="75.16" width="1.63" height="51.89"/>
<rect x="425.12" y="70.50" width="1.63" height="56.55"/>
<rect x="426.75" y="75.71" width="1.63" height="51.34"/>
<rect x="428.38" y="74.14" width="1.63" height="52.91"/>
<rect x="430.00" y="78.47" width="1.63" height="48.58"/>
<rect x="431.63" y="76.42" width="1.63" height="50.63"/>
<rect x="433.26" y="81.23" width="1.63" height="45.82"/>
<rect x="434.88" y="71.93" width="1.63" height="55.12"/>
<rect x="436.51" y="79.23" width="1.63" height="47.82"/>
<rect x="438.14" y="72.88" width="1.63" height="54.17"/>
<rect x="439.76" y="83.90" width="1.63" height="43.15"/>
<rect x="441.39" y="78.68" width="1.63" height="48.37"/>
<rect x="443.02" y="81.48" width="1.63" height="45.57"/>
<rect x="444.65" y="75.80" width="1.63" height="51.25"/>
<rect x="446.27" y="84.06" width="1.63" height="42.99"/>
<rect x="447.90" y="79.05" width="1.63" height="48.00"/>
<rect x="449.53" y="84.50" width="1.63" height="42.55"/>
<rect x="451.15" y="81.82" width="1.63" height="45.23"/>
<rect x="452.78" y="86.75" width="1.63" height="40.30"/>
<rect x="454.41" y="86.76" width="1.63" height="40.29"/>
<rect x="456.03" y="89.86" width="1.63" height="37.19"/>
<rect x="457.66" y="79.12" width="1.63" height="47.93"/>
<rect x="459.29" y="92.70" width="1.63" height="34.35"/>
<rect x="460.91" y="93.54" width="1.63" height="33.51"/>
<rect x="462.54" y="94.50" width="1.63" height="32.55"/>
<rect x="464.17" y="89.36" width="1.63" height="37.69"/>
<rect x="465.79" y="99.52" width="1.63" height="27.53"/>
<rect x="467.42" y="95.68" width="1.63" height="31.37"/>
<rect x="469.05" y="97.45" width="1.63" height="29.60"/>
<rect x="470.67" y="96.43" width="1.63" height="30.62"/>
<rect x="472.30" y="98.08" width="1.63" height="28.97"/>
<rect x="473.93" y="98.30" width="1.63" height="28.75"/>
<rect x="475.55" y="102.05" width="1.63" height="25.00"/>
<rect x="477.18" y="97.91" width="1.63" height="29.14"/>
<rect x="478.81" y="103.92" width="1.63" height="23.13"/>
<rect x="480.44" y="99.33" width="1.63" height="27.72"/>
<rect x="482.06" y="103.14" width="1.63" height="23.91"/>
<rect x="483.69" y="67.26" width="1.63" height="59.79"/>
</g>
<line x1="322.63" y1="127.05" x2="485.32" y2="127.05" stroke="#2a1a10" stroke-opacity="0.45" stroke-width="0.9"/>
<rect x="314.5" y="12.6" width="178.95" height="114.45" fill="none" stroke="#686868" stroke-width="1.1"/>
<line x1="322.63" y1="127.05" x2="322.63" y2="128.75" stroke="#555" stroke-width="0.6"/>
<text x="322.63" y="137.05" font-size="7.5" text-anchor="middle" textLength="9.88" lengthAdjust="spacingAndGlyphs">0.0</text>
<line x1="355.17" y1="127.05" x2="355.17" y2="128.75" stroke="#555" stroke-width="0.6"/>
<text x="355.17" y="137.05" font-size="7.5" text-anchor="middle" textLength="9.88" lengthAdjust="spacingAndGlyphs">0.2</text>
<line x1="387.71" y1="127.05" x2="387.71" y2="128.75" stroke="#555" stroke-width="0.6"/>
<text x="387.71" y="137.05" font-size="7.5" text-anchor="middle" textLength="9.88" lengthAdjust="spacingAndGlyphs">0.4</text>
<line x1="420.24" y1="127.05" x2="420.24" y2="128.75" stroke="#555" stroke-width="0.6"/>
<text x="420.24" y="137.05" font-size="7.5" text-anchor="middle" textLength="9.88" lengthAdjust="spacingAndGlyphs">0.6</text>
<line x1="452.78" y1="127.05" x2="452.78" y2="128.75" stroke="#555" stroke-width="0.6"/>
<text x="452.78" y="137.05" font-size="7.5" text-anchor="middle" textLength="9.88" lengthAdjust="spacingAndGlyphs">0.8</text>
<line x1="485.32" y1="127.05" x2="485.32" y2="128.75" stroke="#555" stroke-width="0.6"/>
<text x="485.32" y="137.05" font-size="7.5" text-anchor="middle" textLength="9.88" lengthAdjust="spacingAndGlyphs">1.0</text>
<line x1="312.8" y1="127.05" x2="314.5" y2="127.05" stroke="#555" stroke-width="0.6"/>
 <text x="311.20" y="130.55" font-size="7.5" text-anchor="end" textLength="3.95" lengthAdjust="spacingAndGlyphs">0</text>
<line x1="312.8" y1="106.15" x2="314.5" y2="106.15" stroke="#555" stroke-width="0.6"/>
 <text x="311.20" y="109.65" font-size="7.5" text-anchor="end" textLength="11.85" lengthAdjust="spacingAndGlyphs">200</text>
<line x1="312.8" y1="85.24" x2="314.5" y2="85.24" stroke="#555" stroke-width="0.6"/>
 <text x="311.20" y="88.74" font-size="7.5" text-anchor="end" textLength="11.85" lengthAdjust="spacingAndGlyphs">400</text>
<line x1="312.8" y1="64.34" x2="314.5" y2="64.34" stroke="#555" stroke-width="0.6"/>
 <text x="311.20" y="67.84" font-size="7.5" text-anchor="end" textLength="11.85" lengthAdjust="spacingAndGlyphs">600</text>
<line x1="312.8" y1="43.43" x2="314.5" y2="43.43" stroke="#555" stroke-width="0.6"/>
 <text x="311.20" y="46.93" font-size="7.5" text-anchor="end" textLength="11.85" lengthAdjust="spacingAndGlyphs">800</text>
<line x1="312.8" y1="22.53" x2="314.5" y2="22.53" stroke="#555" stroke-width="0.6"/>
 <text x="311.20" y="26.03" font-size="7.5" text-anchor="end" textLength="17.78" lengthAdjust="spacingAndGlyphs">1,000</text>
<text x="403.98" y="146.85" font-size="8.6" text-anchor="middle" textLength="63.6" lengthAdjust="spacingAndGlyphs">normalized values</text>
<text transform="translate(289.1,70.53) rotate(-90)" font-size="8.6" text-anchor="middle" textLength="18.2" lengthAdjust="spacingAndGlyphs">count</text>
<text x="403.98" y="9.80" font-size="10.2" text-anchor="middle" textLength="90.4" lengthAdjust="spacingAndGlyphs">(b) Vegetation indices</text>
<rect x="497.3" y="39.4" width="50.3" height="60.5" rx="1.2" fill="#fff" stroke="#d0d0d0" stroke-width="0.6"/>
<rect x="500.30" y="42.70" width="15.8" height="5.4" fill="#1f77b4" fill-opacity="0.5" stroke="#222" stroke-opacity="0.8" stroke-width="0.45"/>
<text x="522.40" y="48.10" font-size="8.0" textLength="18.4" lengthAdjust="spacingAndGlyphs">NIRv</text>
<rect x="500.30" y="54.45" width="15.8" height="5.4" fill="#ff7f0e" fill-opacity="0.5" stroke="#222" stroke-opacity="0.8" stroke-width="0.45"/>
<text x="522.40" y="59.85" font-size="8.0" textLength="20.0" lengthAdjust="spacingAndGlyphs">NDVI</text>
<rect x="500.30" y="66.20" width="15.8" height="5.4" fill="#2ca02c" fill-opacity="0.5" stroke="#222" stroke-opacity="0.8" stroke-width="0.45"/>
<text x="522.40" y="71.60" font-size="8.0" textLength="12.6" lengthAdjust="spacingAndGlyphs">EVI</text>
<rect x="500.30" y="77.95" width="15.8" height="5.4" fill="#d62728" fill-opacity="0.5" stroke="#222" stroke-opacity="0.8" stroke-width="0.45"/>
<text x="522.40" y="83.35" font-size="8.0" textLength="21.4" lengthAdjust="spacingAndGlyphs">ChlRE</text>
<rect x="500.30" y="89.70" width="15.8" height="5.4" fill="#9467bd" fill-opacity="0.5" stroke="#222" stroke-opacity="0.8" stroke-width="0.45"/>
<text x="522.40" y="95.10" font-size="8.0" textLength="13.7" lengthAdjust="spacingAndGlyphs">MSI</text>
<g fill="#1f77b4" fill-opacity="0.55" stroke="#000000" stroke-opacity="0.3" stroke-width="0.5">
<rect x="42.75" y="279.23" width="1.63" height="2.12"/>
<rect x="44.39" y="278.87" width="1.63" height="2.48"/>
<rect x="46.02" y="279.08" width="1.63" height="2.27"/>
<rect x="47.65" y="278.76" width="1.63" height="2.59"/>
<rect x="49.28" y="277.98" width="1.63" height="3.37"/>
<rect x="50.91" y="277.12" width="1.63" height="4.23"/>
<rect x="52.54" y="277.20" width="1.63" height="4.15"/>
<rect x="54.17" y="277.43" width="1.63" height="3.92"/>
<rect x="55.80" y="276.91" width="1.63" height="4.44"/>
<rect x="57.43" y="276.25" width="1.63" height="5.10"/>
<rect x="59.06" y="275.40" width="1.63" height="5.95"/>
<rect x="60.69" y="275.36" width="1.63" height="5.99"/>
<rect x="62.33" y="275.06" width="1.63" height="6.29"/>
<rect x="63.96" y="274.54" width="1.63" height="6.81"/>
<rect x="65.59" y="273.89" width="1.63" height="7.46"/>
<rect x="67.22" y="273.90" width="1.63" height="7.45"/>
<rect x="68.85" y="273.05" width="1.63" height="8.30"/>
<rect x="70.48" y="272.45" width="1.63" height="8.90"/>
<rect x="72.11" y="271.22" width="1.63" height="10.13"/>
<rect x="73.74" y="271.71" width="1.63" height="9.64"/>
<rect x="75.37" y="270.68" width="1.63" height="10.67"/>
<rect x="77.00" y="271.47" width="1.63" height="9.88"/>
<rect x="78.63" y="269.95" width="1.63" height="11.40"/>
<rect x="80.27" y="269.98" width="1.63" height="11.37"/>
<rect x="81.90" y="270.03" width="1.63" height="11.32"/>
<rect x="83.53" y="269.32" width="1.63" height="12.03"/>
<rect x="85.16" y="268.33" width="1.63" height="13.02"/>
<rect x="86.79" y="268.74" width="1.63" height="12.61"/>
<rect x="88.42" y="267.45" width="1.63" height="13.90"/>
<rect x="90.05" y="266.72" width="1.63" height="14.63"/>
<rect x="91.68" y="266.17" width="1.63" height="15.18"/>
<rect x="93.31" y="265.61" width="1.63" height="15.74"/>
<rect x="94.94" y="267.13" width="1.63" height="14.22"/>
<rect x="96.57" y="265.44" width="1.63" height="15.91"/>
<rect x="98.21" y="265.66" width="1.63" height="15.69"/>
<rect x="99.84" y="263.79" width="1.63" height="17.56"/>
<rect x="101.47" y="263.73" width="1.63" height="17.62"/>
<rect x="103.10" y="262.88" width="1.63" height="18.47"/>
<rect x="104.73" y="261.97" width="1.63" height="19.38"/>
<rect x="106.36" y="259.81" width="1.63" height="21.54"/>
<rect x="107.99" y="261.67" width="1.63" height="19.68"/>
<rect x="109.62" y="262.57" width="1.63" height="18.78"/>
<rect x="111.25" y="260.64" width="1.63" height="20.71"/>
<rect x="112.88" y="263.07" width="1.63" height="18.28"/>
<rect x="114.51" y="263.08" width="1.63" height="18.27"/>
<rect x="116.15" y="264.80" width="1.63" height="16.55"/>
<rect x="117.78" y="264.90" width="1.63" height="16.45"/>
<rect x="119.41" y="264.74" width="1.63" height="16.61"/>
<rect x="121.04" y="263.89" width="1.63" height="17.46"/>
<rect x="122.67" y="264.32" width="1.63" height="17.03"/>
<rect x="124.30" y="265.09" width="1.63" height="16.26"/>
<rect x="125.93" y="266.16" width="1.63" height="15.19"/>
<rect x="127.56" y="264.88" width="1.63" height="16.47"/>
<rect x="129.19" y="267.54" width="1.63" height="13.81"/>
<rect x="130.82" y="268.03" width="1.63" height="13.32"/>
<rect x="132.45" y="267.74" width="1.63" height="13.61"/>
<rect x="134.09" y="269.34" width="1.63" height="12.01"/>
<rect x="135.72" y="268.76" width="1.63" height="12.59"/>
<rect x="137.35" y="268.52" width="1.63" height="12.83"/>
<rect x="138.98" y="269.39" width="1.63" height="11.96"/>
<rect x="140.61" y="269.29" width="1.63" height="12.06"/>
<rect x="142.24" y="269.68" width="1.63" height="11.67"/>
<rect x="143.87" y="270.13" width="1.63" height="11.22"/>
<rect x="145.50" y="271.70" width="1.63" height="9.65"/>
<rect x="147.13" y="270.48" width="1.63" height="10.87"/>
<rect x="148.76" y="269.71" width="1.63" height="11.64"/>
<rect x="150.39" y="270.74" width="1.63" height="10.61"/>
<rect x="152.03" y="270.06" width="1.63" height="11.29"/>
<rect x="153.66" y="269.58" width="1.63" height="11.77"/>
<rect x="155.29" y="268.87" width="1.63" height="12.48"/>
<rect x="156.92" y="270.57" width="1.63" height="10.78"/>
<rect x="158.55" y="269.72" width="1.63" height="11.63"/>
<rect x="160.18" y="268.83" width="1.63" height="12.52"/>
<rect x="161.81" y="268.22" width="1.63" height="13.13"/>
<rect x="163.44" y="269.09" width="1.63" height="12.26"/>
<rect x="165.07" y="266.52" width="1.63" height="14.83"/>
<rect x="166.70" y="268.18" width="1.63" height="13.17"/>
<rect x="168.33" y="266.71" width="1.63" height="14.64"/>
<rect x="169.97" y="267.44" width="1.63" height="13.91"/>
<rect x="171.60" y="267.05" width="1.63" height="14.30"/>
<rect x="173.23" y="266.34" width="1.63" height="15.01"/>
<rect x="174.86" y="267.16" width="1.63" height="14.19"/>
<rect x="176.49" y="267.71" width="1.63" height="13.64"/>
<rect x="178.12" y="269.02" width="1.63" height="12.33"/>
<rect x="179.75" y="269.32" width="1.63" height="12.03"/>
<rect x="181.38" y="270.35" width="1.63" height="11.00"/>
<rect x="183.01" y="268.81" width="1.63" height="12.54"/>
<rect x="184.64" y="271.71" width="1.63" height="9.64"/>
<rect x="186.27" y="272.98" width="1.63" height="8.37"/>
<rect x="187.91" y="271.26" width="1.63" height="10.09"/>
<rect x="189.54" y="272.15" width="1.63" height="9.20"/>
<rect x="191.17" y="273.68" width="1.63" height="7.67"/>
<rect x="192.80" y="273.74" width="1.63" height="7.61"/>
<rect x="194.43" y="275.09" width="1.63" height="6.26"/>
<rect x="196.06" y="275.40" width="1.63" height="5.95"/>
<rect x="197.69" y="275.34" width="1.63" height="6.01"/>
<rect x="199.32" y="275.83" width="1.63" height="5.52"/>
<rect x="200.95" y="276.35" width="1.63" height="5.00"/>
<rect x="202.58" y="275.64" width="1.63" height="5.71"/>
<rect x="204.21" y="242.15" width="1.63" height="39.20"/>
</g>
<g fill="#ff7f0e" fill-opacity="0.55" stroke="#000000" stroke-opacity="0.3" stroke-width="0.5">
<rect x="42.75" y="214.60" width="1.63" height="66.75"/>
<rect x="44.39" y="223.11" width="1.63" height="58.24"/>
<rect x="46.02" y="224.39" width="1.63" height="56.96"/>
<rect x="47.65" y="232.98" width="1.63" height="48.37"/>
<rect x="49.28" y="236.95" width="1.63" height="44.40"/>
<rect x="50.91" y="239.89" width="1.63" height="41.46"/>
<rect x="52.54" y="244.01" width="1.63" height="37.34"/>
<rect x="54.17" y="246.79" width="1.63" height="34.56"/>
<rect x="55.80" y="247.76" width="1.63" height="33.59"/>
<rect x="57.43" y="251.08" width="1.63" height="30.27"/>
<rect x="59.06" y="251.80" width="1.63" height="29.55"/>
<rect x="60.69" y="254.84" width="1.63" height="26.51"/>
<rect x="62.33" y="257.58" width="1.63" height="23.77"/>
<rect x="63.96" y="258.26" width="1.63" height="23.09"/>
<rect x="65.59" y="259.01" width="1.63" height="22.34"/>
<rect x="67.22" y="261.26" width="1.63" height="20.09"/>
<rect x="68.85" y="260.56" width="1.63" height="20.79"/>
<rect x="70.48" y="261.55" width="1.63" height="19.80"/>
<rect x="72.11" y="261.29" width="1.63" height="20.06"/>
<rect x="73.74" y="263.22" width="1.63" height="18.13"/>
<rect x="75.37" y="263.06" width="1.63" height="18.29"/>
<rect x="77.00" y="263.01" width="1.63" height="18.34"/>
<rect x="78.63" y="263.76" width="1.63" height="17.59"/>
<rect x="80.27" y="265.97" width="1.63" height="15.38"/>
<rect x="81.90" y="264.64" width="1.63" height="16.71"/>
<rect x="83.53" y="266.96" width="1.63" height="14.39"/>
<rect x="85.16" y="266.15" width="1.63" height="15.20"/>
<rect x="86.79" y="267.82" width="1.63" height="13.53"/>
<rect x="88.42" y="268.47" width="1.63" height="12.88"/>
<rect x="90.05" y="269.63" width="1.63" height="11.72"/>
<rect x="91.68" y="269.44" width="1.63" height="11.91"/>
<rect x="93.31" y="268.40" width="1.63" height="12.95"/>
<rect x="94.94" y="271.03" width="1.63" height="10.32"/>
<rect x="96.57" y="270.17" width="1.63" height="11.18"/>
<rect x="98.21" y="270.82" width="1.63" height="10.53"/>
<rect x="99.84" y="272.36" width="1.63" height="8.99"/>
<rect x="101.47" y="271.98" width="1.63" height="9.37"/>
<rect x="103.10" y="272.26" width="1.63" height="9.09"/>
<rect x="104.73" y="273.46" width="1.63" height="7.89"/>
<rect x="106.36" y="273.83" width="1.63" height="7.52"/>
<rect x="107.99" y="273.17" width="1.63" height="8.18"/>
<rect x="109.62" y="273.82" width="1.63" height="7.53"/>
<rect x="111.25" y="273.08" width="1.63" height="8.27"/>
<rect x="112.88" y="274.14" width="1.63" height="7.21"/>
<rect x="114.51" y="275.11" width="1.63" height="6.24"/>
<rect x="116.15" y="274.70" width="1.63" height="6.65"/>
<rect x="117.78" y="275.43" width="1.63" height="5.92"/>
<rect x="119.41" y="274.60" width="1.63" height="6.75"/>
<rect x="121.04" y="274.76" width="1.63" height="6.59"/>
<rect x="122.67" y="275.45" width="1.63" height="5.90"/>
<rect x="124.30" y="275.81" width="1.63" height="5.54"/>
<rect x="125.93" y="275.08" width="1.63" height="6.27"/>
<rect x="127.56" y="275.80" width="1.63" height="5.55"/>
<rect x="129.19" y="275.16" width="1.63" height="6.19"/>
<rect x="130.82" y="276.30" width="1.63" height="5.05"/>
<rect x="132.45" y="276.09" width="1.63" height="5.26"/>
<rect x="134.09" y="276.22" width="1.63" height="5.13"/>
<rect x="135.72" y="276.37" width="1.63" height="4.98"/>
<rect x="137.35" y="274.54" width="1.63" height="6.81"/>
<rect x="138.98" y="274.93" width="1.63" height="6.42"/>
<rect x="140.61" y="275.93" width="1.63" height="5.42"/>
<rect x="142.24" y="275.17" width="1.63" height="6.18"/>
<rect x="143.87" y="276.33" width="1.63" height="5.02"/>
<rect x="145.50" y="274.78" width="1.63" height="6.57"/>
<rect x="147.13" y="274.77" width="1.63" height="6.58"/>
<rect x="148.76" y="275.38" width="1.63" height="5.97"/>
<rect x="150.39" y="275.36" width="1.63" height="5.99"/>
<rect x="152.03" y="275.09" width="1.63" height="6.26"/>
<rect x="153.66" y="275.02" width="1.63" height="6.33"/>
<rect x="155.29" y="275.45" width="1.63" height="5.90"/>
<rect x="156.92" y="275.72" width="1.63" height="5.63"/>
<rect x="158.55" y="275.47" width="1.63" height="5.88"/>
<rect x="160.18" y="275.58" width="1.63" height="5.77"/>
<rect x="161.81" y="275.03" width="1.63" height="6.32"/>
<rect x="163.44" y="275.39" width="1.63" height="5.96"/>
<rect x="165.07" y="275.36" width="1.63" height="5.99"/>
<rect x="166.70" y="276.32" width="1.63" height="5.03"/>
<rect x="168.33" y="275.77" width="1.63" height="5.58"/>
<rect x="169.97" y="275.83" width="1.63" height="5.52"/>
<rect x="171.60" y="275.95" width="1.63" height="5.40"/>
<rect x="173.23" y="275.81" width="1.63" height="5.54"/>
<rect x="174.86" y="275.96" width="1.63" height="5.39"/>
<rect x="176.49" y="276.57" width="1.63" height="4.78"/>
<rect x="178.12" y="275.50" width="1.63" height="5.85"/>
<rect x="179.75" y="275.56" width="1.63" height="5.79"/>
<rect x="181.38" y="276.27" width="1.63" height="5.08"/>
<rect x="183.01" y="275.79" width="1.63" height="5.56"/>
<rect x="184.64" y="276.53" width="1.63" height="4.82"/>
<rect x="186.27" y="276.71" width="1.63" height="4.64"/>
<rect x="187.91" y="276.28" width="1.63" height="5.07"/>
<rect x="189.54" y="275.53" width="1.63" height="5.82"/>
<rect x="191.17" y="276.31" width="1.63" height="5.04"/>
<rect x="192.80" y="276.98" width="1.63" height="4.37"/>
<rect x="194.43" y="276.23" width="1.63" height="5.12"/>
<rect x="196.06" y="276.63" width="1.63" height="4.72"/>
<rect x="197.69" y="276.73" width="1.63" height="4.62"/>
<rect x="199.32" y="276.29" width="1.63" height="5.06"/>
<rect x="200.95" y="277.24" width="1.63" height="4.11"/>
<rect x="202.58" y="277.30" width="1.63" height="4.05"/>
<rect x="204.21" y="257.34" width="1.63" height="24.01"/>
</g>
<g fill="#2ca02c" fill-opacity="0.55" stroke="#000000" stroke-opacity="0.3" stroke-width="0.5">
<rect x="42.75" y="214.25" width="1.63" height="67.10"/>
<rect x="44.39" y="224.32" width="1.63" height="57.03"/>
<rect x="46.02" y="228.64" width="1.63" height="52.71"/>
<rect x="47.65" y="234.01" width="1.63" height="47.34"/>
<rect x="49.28" y="238.54" width="1.63" height="42.81"/>
<rect x="50.91" y="241.58" width="1.63" height="39.77"/>
<rect x="52.54" y="244.63" width="1.63" height="36.72"/>
<rect x="54.17" y="246.88" width="1.63" height="34.47"/>
<rect x="55.80" y="248.93" width="1.63" height="32.42"/>
<rect x="57.43" y="250.73" width="1.63" height="30.62"/>
<rect x="59.06" y="253.85" width="1.63" height="27.50"/>
<rect x="60.69" y="255.25" width="1.63" height="26.10"/>
<rect x="62.33" y="257.55" width="1.63" height="23.80"/>
<rect x="63.96" y="259.54" width="1.63" height="21.81"/>
<rect x="65.59" y="261.49" width="1.63" height="19.86"/>
<rect x="67.22" y="263.60" width="1.63" height="17.75"/>
<rect x="68.85" y="265.41" width="1.63" height="15.94"/>
<rect x="70.48" y="265.61" width="1.63" height="15.74"/>
<rect x="72.11" y="267.03" width="1.63" height="14.32"/>
<rect x="73.74" y="267.60" width="1.63" height="13.75"/>
<rect x="75.37" y="268.52" width="1.63" height="12.83"/>
<rect x="77.00" y="270.36" width="1.63" height="10.99"/>
<rect x="78.63" y="270.68" width="1.63" height="10.67"/>
<rect x="80.27" y="271.52" width="1.63" height="9.83"/>
<rect x="81.90" y="270.65" width="1.63" height="10.70"/>
<rect x="83.53" y="271.72" width="1.63" height="9.63"/>
<rect x="85.16" y="271.99" width="1.63" height="9.36"/>
<rect x="86.79" y="272.97" width="1.63" height="8.38"/>
<rect x="88.42" y="273.51" width="1.63" height="7.84"/>
<rect x="90.05" y="273.46" width="1.63" height="7.89"/>
<rect x="91.68" y="273.52" width="1.63" height="7.83"/>
<rect x="93.31" y="273.55" width="1.63" height="7.80"/>
<rect x="94.94" y="274.87" width="1.63" height="6.48"/>
<rect x="96.57" y="274.24" width="1.63" height="7.11"/>
<rect x="98.21" y="275.11" width="1.63" height="6.24"/>
<rect x="99.84" y="275.24" width="1.63" height="6.11"/>
<rect x="101.47" y="275.43" width="1.63" height="5.92"/>
<rect x="103.10" y="275.74" width="1.63" height="5.61"/>
<rect x="104.73" y="275.54" width="1.63" height="5.81"/>
<rect x="106.36" y="275.55" width="1.63" height="5.80"/>
<rect x="107.99" y="275.98" width="1.63" height="5.37"/>
<rect x="109.62" y="276.55" width="1.63" height="4.80"/>
<rect x="111.25" y="276.35" width="1.63" height="5.00"/>
<rect x="112.88" y="276.56" width="1.63" height="4.79"/>
<rect x="114.51" y="276.57" width="1.63" height="4.78"/>
<rect x="116.15" y="277.00" width="1.63" height="4.35"/>
<rect x="117.78" y="277.90" width="1.63" height="3.45"/>
<rect x="119.41" y="277.65" width="1.63" height="3.70"/>
<rect x="121.04" y="277.58" width="1.63" height="3.77"/>
<rect x="122.67" y="277.16" width="1.63" height="4.19"/>
<rect x="124.30" y="277.61" width="1.63" height="3.74"/>
<rect x="125.93" y="277.30" width="1.63" height="4.05"/>
<rect x="127.56" y="277.58" width="1.63" height="3.77"/>
<rect x="129.19" y="278.17" width="1.63" height="3.18"/>
<rect x="130.82" y="277.80" width="1.63" height="3.55"/>
<rect x="132.45" y="277.64" width="1.63" height="3.71"/>
<rect x="134.09" y="277.68" width="1.63" height="3.67"/>
<rect x="135.72" y="278.33" width="1.63" height="3.02"/>
<rect x="137.35" y="277.65" width="1.63" height="3.70"/>
<rect x="138.98" y="278.00" width="1.63" height="3.35"/>
<rect x="140.61" y="278.52" width="1.63" height="2.83"/>
<rect x="142.24" y="277.97" width="1.63" height="3.38"/>
<rect x="143.87" y="278.45" width="1.63" height="2.90"/>
<rect x="145.50" y="278.19" width="1.63" height="3.16"/>
<rect x="147.13" y="277.22" width="1.63" height="4.13"/>
<rect x="148.76" y="276.85" width="1.63" height="4.50"/>
<rect x="150.39" y="277.33" width="1.63" height="4.02"/>
<rect x="152.03" y="277.54" width="1.63" height="3.81"/>
<rect x="153.66" y="277.01" width="1.63" height="4.34"/>
<rect x="155.29" y="277.55" width="1.63" height="3.80"/>
<rect x="156.92" y="278.02" width="1.63" height="3.33"/>
<rect x="158.55" y="278.56" width="1.63" height="2.79"/>
<rect x="160.18" y="277.37" width="1.63" height="3.98"/>
<rect x="161.81" y="278.51" width="1.63" height="2.84"/>
<rect x="163.44" y="278.73" width="1.63" height="2.62"/>
<rect x="165.07" y="277.96" width="1.63" height="3.39"/>
<rect x="166.70" y="277.72" width="1.63" height="3.63"/>
<rect x="168.33" y="278.06" width="1.63" height="3.29"/>
<rect x="169.97" y="277.40" width="1.63" height="3.95"/>
<rect x="171.60" y="277.81" width="1.63" height="3.54"/>
<rect x="173.23" y="277.72" width="1.63" height="3.63"/>
<rect x="174.86" y="277.65" width="1.63" height="3.70"/>
<rect x="176.49" y="278.02" width="1.63" height="3.33"/>
<rect x="178.12" y="277.75" width="1.63" height="3.60"/>
<rect x="179.75" y="277.02" width="1.63" height="4.33"/>
<rect x="181.38" y="278.18" width="1.63" height="3.17"/>
<rect x="183.01" y="277.82" width="1.63" height="3.53"/>
<rect x="184.64" y="277.72" width="1.63" height="3.63"/>
<rect x="186.27" y="278.11" width="1.63" height="3.24"/>
<rect x="187.91" y="277.96" width="1.63" height="3.39"/>
<rect x="189.54" y="278.56" width="1.63" height="2.79"/>
<rect x="191.17" y="278.14" width="1.63" height="3.21"/>
<rect x="192.80" y="278.00" width="1.63" height="3.35"/>
<rect x="194.43" y="277.66" width="1.63" height="3.69"/>
<rect x="196.06" y="277.74" width="1.63" height="3.61"/>
<rect x="197.69" y="278.28" width="1.63" height="3.07"/>
<rect x="199.32" y="278.48" width="1.63" height="2.87"/>
<rect x="200.95" y="277.52" width="1.63" height="3.83"/>
<rect x="202.58" y="277.86" width="1.63" height="3.49"/>
<rect x="204.21" y="264.05" width="1.63" height="17.30"/>
</g>
<g fill="#d62728" fill-opacity="0.55" stroke="#000000" stroke-opacity="0.3" stroke-width="0.5">
<rect x="42.75" y="192.18" width="1.63" height="89.17"/>
<rect x="44.39" y="187.77" width="1.63" height="93.58"/>
<rect x="46.02" y="172.23" width="1.63" height="109.12"/>
<rect x="47.65" y="176.29" width="1.63" height="105.06"/>
<rect x="49.28" y="205.14" width="1.63" height="76.21"/>
<rect x="50.91" y="215.91" width="1.63" height="65.44"/>
<rect x="52.54" y="226.08" width="1.63" height="55.27"/>
<rect x="54.17" y="231.17" width="1.63" height="50.18"/>
<rect x="55.80" y="241.08" width="1.63" height="40.27"/>
<rect x="57.43" y="245.45" width="1.63" height="35.90"/>
<rect x="59.06" y="251.89" width="1.63" height="29.46"/>
<rect x="60.69" y="256.34" width="1.63" height="25.01"/>
<rect x="62.33" y="258.44" width="1.63" height="22.91"/>
<rect x="63.96" y="258.04" width="1.63" height="23.31"/>
<rect x="65.59" y="260.13" width="1.63" height="21.22"/>
<rect x="67.22" y="262.40" width="1.63" height="18.95"/>
<rect x="68.85" y="266.14" width="1.63" height="15.21"/>
<rect x="70.48" y="266.20" width="1.63" height="15.15"/>
<rect x="72.11" y="267.88" width="1.63" height="13.47"/>
<rect x="73.74" y="269.75" width="1.63" height="11.60"/>
<rect x="75.37" y="270.78" width="1.63" height="10.57"/>
<rect x="77.00" y="270.10" width="1.63" height="11.25"/>
<rect x="78.63" y="271.89" width="1.63" height="9.46"/>
<rect x="80.27" y="273.28" width="1.63" height="8.07"/>
<rect x="81.90" y="274.17" width="1.63" height="7.18"/>
<rect x="83.53" y="275.16" width="1.63" height="6.19"/>
<rect x="85.16" y="275.71" width="1.63" height="5.64"/>
<rect x="86.79" y="275.81" width="1.63" height="5.54"/>
<rect x="88.42" y="276.94" width="1.63" height="4.41"/>
<rect x="90.05" y="276.99" width="1.63" height="4.36"/>
<rect x="91.68" y="276.53" width="1.63" height="4.82"/>
<rect x="93.31" y="278.05" width="1.63" height="3.30"/>
<rect x="94.94" y="278.16" width="1.63" height="3.19"/>
<rect x="96.57" y="277.34" width="1.63" height="4.01"/>
<rect x="98.21" y="278.01" width="1.63" height="3.34"/>
<rect x="99.84" y="278.21" width="1.63" height="3.14"/>
<rect x="101.47" y="278.70" width="1.63" height="2.65"/>
<rect x="103.10" y="279.03" width="1.63" height="2.32"/>
<rect x="104.73" y="278.28" width="1.63" height="3.07"/>
<rect x="106.36" y="279.65" width="1.63" height="1.70"/>
<rect x="107.99" y="278.75" width="1.63" height="2.60"/>
<rect x="109.62" y="279.11" width="1.63" height="2.24"/>
<rect x="111.25" y="279.00" width="1.63" height="2.35"/>
<rect x="112.88" y="279.66" width="1.63" height="1.69"/>
<rect x="114.51" y="278.76" width="1.63" height="2.59"/>
<rect x="116.15" y="278.89" width="1.63" height="2.46"/>
<rect x="117.78" y="279.02" width="1.63" height="2.33"/>
<rect x="119.41" y="279.01" width="1.63" height="2.34"/>
<rect x="121.04" y="279.59" width="1.63" height="1.76"/>
<rect x="122.67" y="279.16" width="1.63" height="2.19"/>
<rect x="124.30" y="279.11" width="1.63" height="2.24"/>
<rect x="125.93" y="279.31" width="1.63" height="2.04"/>
<rect x="127.56" y="280.24" width="1.63" height="1.11"/>
<rect x="129.19" y="279.39" width="1.63" height="1.96"/>
<rect x="130.82" y="279.36" width="1.63" height="1.99"/>
<rect x="132.45" y="279.75" width="1.63" height="1.60"/>
<rect x="134.09" y="279.44" width="1.63" height="1.91"/>
<rect x="135.72" y="279.14" width="1.63" height="2.21"/>
<rect x="137.35" y="279.56" width="1.63" height="1.79"/>
<rect x="138.98" y="279.21" width="1.63" height="2.14"/>
<rect x="140.61" y="279.74" width="1.63" height="1.61"/>
<rect x="142.24" y="279.80" width="1.63" height="1.55"/>
<rect x="143.87" y="279.54" width="1.63" height="1.81"/>
<rect x="145.50" y="279.86" width="1.63" height="1.49"/>
<rect x="147.13" y="280.08" width="1.63" height="1.27"/>
<rect x="148.76" y="279.54" width="1.63" height="1.81"/>
<rect x="150.39" y="279.64" width="1.63" height="1.71"/>
<rect x="152.03" y="279.49" width="1.63" height="1.86"/>
<rect x="153.66" y="279.89" width="1.63" height="1.46"/>
<rect x="155.29" y="279.79" width="1.63" height="1.56"/>
<rect x="156.92" y="279.55" width="1.63" height="1.80"/>
<rect x="158.55" y="279.82" width="1.63" height="1.53"/>
<rect x="160.18" y="279.75" width="1.63" height="1.60"/>
<rect x="161.81" y="279.64" width="1.63" height="1.71"/>
<rect x="163.44" y="279.91" width="1.63" height="1.44"/>
<rect x="165.07" y="279.66" width="1.63" height="1.69"/>
<rect x="166.70" y="280.12" width="1.63" height="1.23"/>
<rect x="168.33" y="279.61" width="1.63" height="1.74"/>
<rect x="169.97" y="279.05" width="1.63" height="2.30"/>
<rect x="171.60" y="279.59" width="1.63" height="1.76"/>
<rect x="173.23" y="279.87" width="1.63" height="1.48"/>
<rect x="174.86" y="280.19" width="1.63" height="1.16"/>
<rect x="176.49" y="280.08" width="1.63" height="1.27"/>
<rect x="178.12" y="279.87" width="1.63" height="1.48"/>
<rect x="179.75" y="280.00" width="1.63" height="1.35"/>
<rect x="181.38" y="279.68" width="1.63" height="1.67"/>
<rect x="183.01" y="279.78" width="1.63" height="1.57"/>
<rect x="184.64" y="279.63" width="1.63" height="1.72"/>
<rect x="186.27" y="279.89" width="1.63" height="1.46"/>
<rect x="187.91" y="279.64" width="1.63" height="1.71"/>
<rect x="189.54" y="279.51" width="1.63" height="1.84"/>
<rect x="191.17" y="280.09" width="1.63" height="1.26"/>
<rect x="192.80" y="279.90" width="1.63" height="1.45"/>
<rect x="194.43" y="279.91" width="1.63" height="1.44"/>
<rect x="196.06" y="279.91" width="1.63" height="1.44"/>
<rect x="197.69" y="279.62" width="1.63" height="1.73"/>
<rect x="199.32" y="279.99" width="1.63" height="1.36"/>
<rect x="200.95" y="280.13" width="1.63" height="1.22"/>
<rect x="202.58" y="280.25" width="1.63" height="1.10"/>
<rect x="204.21" y="268.39" width="1.63" height="12.96"/>
</g>
<line x1="42.75" y1="281.35" x2="205.85" y2="281.35" stroke="#2a1a10" stroke-opacity="0.45" stroke-width="0.9"/>
<rect x="34.6" y="167.0" width="179.4" height="114.35000000000002" fill="none" stroke="#686868" stroke-width="1.1"/>
<line x1="42.75" y1="281.35" x2="42.75" y2="283.05" stroke="#555" stroke-width="0.6"/>
<text x="42.75" y="291.35" font-size="7.5" text-anchor="middle" textLength="9.88" lengthAdjust="spacingAndGlyphs">0.0</text>
<line x1="75.37" y1="281.35" x2="75.37" y2="283.05" stroke="#555" stroke-width="0.6"/>
<text x="75.37" y="291.35" font-size="7.5" text-anchor="middle" textLength="9.88" lengthAdjust="spacingAndGlyphs">0.2</text>
<line x1="107.99" y1="281.35" x2="107.99" y2="283.05" stroke="#555" stroke-width="0.6"/>
<text x="107.99" y="291.35" font-size="7.5" text-anchor="middle" textLength="9.88" lengthAdjust="spacingAndGlyphs">0.4</text>
<line x1="140.61" y1="281.35" x2="140.61" y2="283.05" stroke="#555" stroke-width="0.6"/>
<text x="140.61" y="291.35" font-size="7.5" text-anchor="middle" textLength="9.88" lengthAdjust="spacingAndGlyphs">0.6</text>
<line x1="173.23" y1="281.35" x2="173.23" y2="283.05" stroke="#555" stroke-width="0.6"/>
<text x="173.23" y="291.35" font-size="7.5" text-anchor="middle" textLength="9.88" lengthAdjust="spacingAndGlyphs">0.8</text>
<line x1="205.85" y1="281.35" x2="205.85" y2="283.05" stroke="#555" stroke-width="0.6"/>
<text x="205.85" y="291.35" font-size="7.5" text-anchor="middle" textLength="9.88" lengthAdjust="spacingAndGlyphs">1.0</text>
<line x1="32.9" y1="281.35" x2="34.6" y2="281.35" stroke="#555" stroke-width="0.6"/>
 <text x="31.30" y="284.85" font-size="7.5" text-anchor="end" textLength="3.95" lengthAdjust="spacingAndGlyphs">0</text>
<line x1="32.9" y1="263.69" x2="34.6" y2="263.69" stroke="#555" stroke-width="0.6"/>
 <text x="31.30" y="267.19" font-size="7.5" text-anchor="end" textLength="11.85" lengthAdjust="spacingAndGlyphs">500</text>
<line x1="32.9" y1="246.03" x2="34.6" y2="246.03" stroke="#555" stroke-width="0.6"/>
 <text x="31.30" y="249.53" font-size="7.5" text-anchor="end" textLength="17.78" lengthAdjust="spacingAndGlyphs">1,000</text>
<line x1="32.9" y1="228.38" x2="34.6" y2="228.38" stroke="#555" stroke-width="0.6"/>
 <text x="31.30" y="231.88" font-size="7.5" text-anchor="end" textLength="17.78" lengthAdjust="spacingAndGlyphs">1,500</text>
<line x1="32.9" y1="210.72" x2="34.6" y2="210.72" stroke="#555" stroke-width="0.6"/>
 <text x="31.30" y="214.22" font-size="7.5" text-anchor="end" textLength="17.78" lengthAdjust="spacingAndGlyphs">2,000</text>
<line x1="32.9" y1="193.06" x2="34.6" y2="193.06" stroke="#555" stroke-width="0.6"/>
 <text x="31.30" y="196.56" font-size="7.5" text-anchor="end" textLength="17.78" lengthAdjust="spacingAndGlyphs">2,500</text>
<line x1="32.9" y1="175.40" x2="34.6" y2="175.40" stroke="#555" stroke-width="0.6"/>
 <text x="31.30" y="178.90" font-size="7.5" text-anchor="end" textLength="17.78" lengthAdjust="spacingAndGlyphs">3,000</text>
<text x="124.30" y="301.15" font-size="8.6" text-anchor="middle" textLength="63.6" lengthAdjust="spacingAndGlyphs">normalized values</text>
<text transform="translate(9.1,224.88) rotate(-90)" font-size="8.6" text-anchor="middle" textLength="18.2" lengthAdjust="spacingAndGlyphs">count</text>
<text x="124.30" y="164.20" font-size="10.2" text-anchor="middle" textLength="85.0" lengthAdjust="spacingAndGlyphs">(c) Biophysical traits</text>
<rect x="217.5" y="199.3" width="52.7" height="49.0" rx="1.2" fill="#fff" stroke="#d0d0d0" stroke-width="0.6"/>
<rect x="220.50" y="202.73" width="15.8" height="5.4" fill="#1f77b4" fill-opacity="0.5" stroke="#222" stroke-opacity="0.8" stroke-width="0.45"/>
<text x="242.60" y="208.12" font-size="8.0" textLength="15.4" lengthAdjust="spacingAndGlyphs">LCC</text>
<rect x="220.50" y="214.48" width="15.8" height="5.4" fill="#ff7f0e" fill-opacity="0.5" stroke="#222" stroke-opacity="0.8" stroke-width="0.45"/>
<text x="242.60" y="219.88" font-size="8.0" textLength="24.6" lengthAdjust="spacingAndGlyphs">fAPAR</text>
<rect x="220.50" y="226.23" width="15.8" height="5.4" fill="#2ca02c" fill-opacity="0.5" stroke="#222" stroke-opacity="0.8" stroke-width="0.45"/>
<text x="242.60" y="231.62" font-size="8.0" textLength="24.2" lengthAdjust="spacingAndGlyphs">fCover</text>
<rect x="220.50" y="237.98" width="15.8" height="5.4" fill="#d62728" fill-opacity="0.5" stroke="#222" stroke-opacity="0.8" stroke-width="0.45"/>
<text x="242.60" y="243.38" font-size="8.0" textLength="13.3" lengthAdjust="spacingAndGlyphs">LAI</text>
<g fill="#1f77b4" fill-opacity="0.55" stroke="#000000" stroke-opacity="0.3" stroke-width="0.5">
<rect x="322.63" y="211.78" width="1.63" height="69.57"/>
<rect x="324.26" y="270.06" width="1.63" height="11.29"/>
<rect x="325.89" y="273.15" width="1.63" height="8.20"/>
<rect x="327.51" y="272.57" width="1.63" height="8.78"/>
<rect x="329.14" y="274.27" width="1.63" height="7.08"/>
<rect x="330.77" y="274.82" width="1.63" height="6.53"/>
<rect x="332.39" y="274.34" width="1.63" height="7.01"/>
<rect x="334.02" y="272.15" width="1.63" height="9.20"/>
<rect x="335.65" y="271.73" width="1.63" height="9.62"/>
<rect x="337.28" y="270.11" width="1.63" height="11.24"/>
<rect x="338.90" y="270.86" width="1.63" height="10.49"/>
<rect x="340.53" y="270.88" width="1.63" height="10.47"/>
<rect x="342.16" y="271.55" width="1.63" height="9.80"/>
<rect x="343.78" y="270.41" width="1.63" height="10.94"/>
<rect x="345.41" y="273.52" width="1.63" height="7.83"/>
<rect x="347.04" y="267.25" width="1.63" height="14.10"/>
<rect x="348.66" y="269.04" width="1.63" height="12.31"/>
<rect x="350.29" y="267.94" width="1.63" height="13.41"/>
<rect x="351.92" y="265.57" width="1.63" height="15.78"/>
<rect x="353.54" y="266.33" width="1.63" height="15.02"/>
<rect x="355.17" y="264.12" width="1.63" height="17.23"/>
<rect x="356.80" y="261.98" width="1.63" height="19.37"/>
<rect x="358.42" y="264.90" width="1.63" height="16.45"/>
<rect x="360.05" y="257.68" width="1.63" height="23.67"/>
<rect x="361.68" y="259.31" width="1.63" height="22.04"/>
<rect x="363.30" y="257.09" width="1.63" height="24.26"/>
<rect x="364.93" y="259.08" width="1.63" height="22.27"/>
<rect x="366.56" y="256.99" width="1.63" height="24.36"/>
<rect x="368.19" y="250.85" width="1.63" height="30.50"/>
<rect x="369.81" y="254.28" width="1.63" height="27.07"/>
<rect x="371.44" y="252.63" width="1.63" height="28.72"/>
<rect x="373.07" y="249.11" width="1.63" height="32.24"/>
<rect x="374.69" y="245.51" width="1.63" height="35.84"/>
<rect x="376.32" y="253.79" width="1.63" height="27.56"/>
<rect x="377.95" y="243.88" width="1.63" height="37.47"/>
<rect x="379.57" y="246.01" width="1.63" height="35.34"/>
<rect x="381.20" y="243.58" width="1.63" height="37.77"/>
<rect x="382.83" y="247.30" width="1.63" height="34.05"/>
<rect x="384.45" y="243.06" width="1.63" height="38.29"/>
<rect x="386.08" y="238.76" width="1.63" height="42.59"/>
<rect x="387.71" y="241.96" width="1.63" height="39.39"/>
<rect x="389.33" y="242.22" width="1.63" height="39.13"/>
<rect x="390.96" y="240.61" width="1.63" height="40.74"/>
<rect x="392.59" y="239.36" width="1.63" height="41.99"/>
<rect x="394.21" y="234.07" width="1.63" height="47.28"/>
<rect x="395.84" y="234.00" width="1.63" height="47.35"/>
<rect x="397.47" y="234.20" width="1.63" height="47.15"/>
<rect x="399.09" y="228.97" width="1.63" height="52.38"/>
<rect x="400.72" y="233.75" width="1.63" height="47.60"/>
<rect x="402.35" y="234.09" width="1.63" height="47.26"/>
<rect x="403.97" y="220.55" width="1.63" height="60.80"/>
<rect x="405.60" y="226.50" width="1.63" height="54.85"/>
<rect x="407.23" y="216.10" width="1.63" height="65.25"/>
<rect x="408.86" y="218.55" width="1.63" height="62.80"/>
<rect x="410.48" y="216.02" width="1.63" height="65.33"/>
<rect x="412.11" y="210.41" width="1.63" height="70.94"/>
<rect x="413.74" y="211.94" width="1.63" height="69.41"/>
<rect x="415.36" y="208.74" width="1.63" height="72.61"/>
<rect x="416.99" y="203.34" width="1.63" height="78.01"/>
<rect x="418.62" y="200.84" width="1.63" height="80.51"/>
<rect x="420.24" y="193.45" width="1.63" height="87.90"/>
<rect x="421.87" y="185.43" width="1.63" height="95.92"/>
<rect x="423.50" y="194.24" width="1.63" height="87.11"/>
<rect x="425.12" y="190.50" width="1.63" height="90.85"/>
<rect x="426.75" y="182.92" width="1.63" height="98.43"/>
<rect x="428.38" y="182.78" width="1.63" height="98.57"/>
<rect x="430.00" y="179.22" width="1.63" height="102.13"/>
<rect x="431.63" y="185.87" width="1.63" height="95.48"/>
<rect x="433.26" y="180.44" width="1.63" height="100.91"/>
<rect x="434.88" y="183.07" width="1.63" height="98.28"/>
<rect x="436.51" y="189.45" width="1.63" height="91.90"/>
<rect x="438.14" y="181.04" width="1.63" height="100.31"/>
<rect x="439.76" y="188.39" width="1.63" height="92.96"/>
<rect x="441.39" y="178.76" width="1.63" height="102.59"/>
<rect x="443.02" y="181.78" width="1.63" height="99.57"/>
<rect x="444.65" y="181.07" width="1.63" height="100.28"/>
<rect x="446.27" y="171.97" width="1.63" height="109.38"/>
<rect x="447.90" y="175.00" width="1.63" height="106.35"/>
<rect x="449.53" y="174.39" width="1.63" height="106.96"/>
<rect x="451.15" y="182.08" width="1.63" height="99.27"/>
<rect x="452.78" y="188.38" width="1.63" height="92.97"/>
<rect x="454.41" y="183.52" width="1.63" height="97.83"/>
<rect x="456.03" y="187.88" width="1.63" height="93.47"/>
<rect x="457.66" y="196.60" width="1.63" height="84.75"/>
<rect x="459.29" y="203.41" width="1.63" height="77.94"/>
<rect x="460.91" y="201.07" width="1.63" height="80.28"/>
<rect x="462.54" y="205.40" width="1.63" height="75.95"/>
<rect x="464.17" y="205.37" width="1.63" height="75.98"/>
<rect x="465.79" y="214.95" width="1.63" height="66.40"/>
<rect x="467.42" y="217.21" width="1.63" height="64.14"/>
<rect x="469.05" y="215.52" width="1.63" height="65.83"/>
<rect x="470.67" y="219.11" width="1.63" height="62.24"/>
<rect x="472.30" y="218.88" width="1.63" height="62.47"/>
<rect x="473.93" y="221.17" width="1.63" height="60.18"/>
<rect x="475.55" y="230.32" width="1.63" height="51.03"/>
<rect x="477.18" y="237.52" width="1.63" height="43.83"/>
<rect x="478.81" y="233.65" width="1.63" height="47.70"/>
<rect x="480.44" y="238.97" width="1.63" height="42.38"/>
<rect x="482.06" y="239.68" width="1.63" height="41.67"/>
<rect x="483.69" y="211.06" width="1.63" height="70.29"/>
</g>
<g fill="#ff7f0e" fill-opacity="0.55" stroke="#000000" stroke-opacity="0.3" stroke-width="0.5">
<rect x="322.63" y="209.75" width="1.63" height="71.60"/>
<rect x="324.26" y="269.34" width="1.63" height="12.01"/>
<rect x="325.89" y="272.29" width="1.63" height="9.06"/>
<rect x="327.51" y="271.15" width="1.63" height="10.20"/>
<rect x="329.14" y="275.97" width="1.63" height="5.38"/>
<rect x="330.77" y="274.95" width="1.63" height="6.40"/>
<rect x="332.39" y="273.35" width="1.63" height="8.00"/>
<rect x="334.02" y="272.91" width="1.63" height="8.44"/>
<rect x="335.65" y="271.81" width="1.63" height="9.54"/>
<rect x="337.28" y="272.58" width="1.63" height="8.77"/>
<rect x="338.90" y="267.69" width="1.63" height="13.66"/>
<rect x="340.53" y="270.86" width="1.63" height="10.49"/>
<rect x="342.16" y="269.89" width="1.63" height="11.46"/>
<rect x="343.78" y="269.72" width="1.63" height="11.63"/>
<rect x="345.41" y="269.40" width="1.63" height="11.95"/>
<rect x="347.04" y="269.79" width="1.63" height="11.56"/>
<rect x="348.66" y="266.58" width="1.63" height="14.77"/>
<rect x="350.29" y="267.32" width="1.63" height="14.03"/>
<rect x="351.92" y="264.58" width="1.63" height="16.77"/>
<rect x="353.54" y="267.27" width="1.63" height="14.08"/>
<rect x="355.17" y="262.38" width="1.63" height="18.97"/>
<rect x="356.80" y="262.34" width="1.63" height="19.01"/>
<rect x="358.42" y="259.85" width="1.63" height="21.50"/>
<rect x="360.05" y="258.69" width="1.63" height="22.66"/>
<rect x="361.68" y="256.42" width="1.63" height="24.93"/>
<rect x="363.30" y="256.21" width="1.63" height="25.14"/>
<rect x="364.93" y="254.34" width="1.63" height="27.01"/>
<rect x="366.56" y="252.65" width="1.63" height="28.70"/>
<rect x="368.19" y="243.23" width="1.63" height="38.12"/>
<rect x="369.81" y="249.70" width="1.63" height="31.65"/>
<rect x="371.44" y="248.97" width="1.63" height="32.38"/>
<rect x="373.07" y="245.28" width="1.63" height="36.07"/>
<rect x="374.69" y="246.64" width="1.63" height="34.71"/>
<rect x="376.32" y="238.79" width="1.63" height="42.56"/>
<rect x="377.95" y="240.72" width="1.63" height="40.63"/>
<rect x="379.57" y="238.14" width="1.63" height="43.21"/>
<rect x="381.20" y="241.10" width="1.63" height="40.25"/>
<rect x="382.83" y="242.89" width="1.63" height="38.46"/>
<rect x="384.45" y="242.35" width="1.63" height="39.00"/>
<rect x="386.08" y="239.35" width="1.63" height="42.00"/>
<rect x="387.71" y="237.66" width="1.63" height="43.69"/>
<rect x="389.33" y="235.76" width="1.63" height="45.59"/>
<rect x="390.96" y="234.43" width="1.63" height="46.92"/>
<rect x="392.59" y="230.02" width="1.63" height="51.33"/>
<rect x="394.21" y="236.45" width="1.63" height="44.90"/>
<rect x="395.84" y="223.21" width="1.63" height="58.14"/>
<rect x="397.47" y="227.06" width="1.63" height="54.29"/>
<rect x="399.09" y="223.96" width="1.63" height="57.39"/>
<rect x="400.72" y="229.05" width="1.63" height="52.30"/>
<rect x="402.35" y="222.42" width="1.63" height="58.93"/>
<rect x="403.97" y="225.43" width="1.63" height="55.92"/>
<rect x="405.60" y="215.96" width="1.63" height="65.39"/>
<rect x="407.23" y="213.10" width="1.63" height="68.25"/>
<rect x="408.86" y="210.39" width="1.63" height="70.96"/>
<rect x="410.48" y="208.51" width="1.63" height="72.84"/>
<rect x="412.11" y="205.75" width="1.63" height="75.60"/>
<rect x="413.74" y="202.74" width="1.63" height="78.61"/>
<rect x="415.36" y="195.26" width="1.63" height="86.09"/>
<rect x="416.99" y="195.15" width="1.63" height="86.20"/>
<rect x="418.62" y="191.57" width="1.63" height="89.78"/>
<rect x="420.24" y="180.56" width="1.63" height="100.79"/>
<rect x="421.87" y="186.19" width="1.63" height="95.16"/>
<rect x="423.50" y="187.10" width="1.63" height="94.25"/>
<rect x="425.12" y="174.97" width="1.63" height="106.38"/>
<rect x="426.75" y="190.35" width="1.63" height="91.00"/>
<rect x="428.38" y="179.87" width="1.63" height="101.48"/>
<rect x="430.00" y="176.39" width="1.63" height="104.96"/>
<rect x="431.63" y="183.51" width="1.63" height="97.84"/>
<rect x="433.26" y="184.08" width="1.63" height="97.27"/>
<rect x="434.88" y="180.39" width="1.63" height="100.96"/>
<rect x="436.51" y="179.20" width="1.63" height="102.15"/>
<rect x="438.14" y="176.20" width="1.63" height="105.15"/>
<rect x="439.76" y="180.73" width="1.63" height="100.62"/>
<rect x="441.39" y="183.28" width="1.63" height="98.07"/>
<rect x="443.02" y="178.63" width="1.63" height="102.72"/>
<rect x="444.65" y="186.45" width="1.63" height="94.90"/>
<rect x="446.27" y="189.93" width="1.63" height="91.42"/>
<rect x="447.90" y="190.22" width="1.63" height="91.13"/>
<rect x="449.53" y="189.33" width="1.63" height="92.02"/>
<rect x="451.15" y="192.93" width="1.63" height="88.42"/>
<rect x="452.78" y="194.61" width="1.63" height="86.74"/>
<rect x="454.41" y="198.17" width="1.63" height="83.18"/>
<rect x="456.03" y="194.56" width="1.63" height="86.79"/>
<rect x="457.66" y="205.61" width="1.63" height="75.74"/>
<rect x="459.29" y="216.90" width="1.63" height="64.45"/>
<rect x="460.91" y="217.25" width="1.63" height="64.10"/>
<rect x="462.54" y="214.94" width="1.63" height="66.41"/>
<rect x="464.17" y="220.79" width="1.63" height="60.56"/>
<rect x="465.79" y="214.08" width="1.63" height="67.27"/>
<rect x="467.42" y="224.30" width="1.63" height="57.05"/>
<rect x="469.05" y="226.81" width="1.63" height="54.54"/>
<rect x="470.67" y="228.50" width="1.63" height="52.85"/>
<rect x="472.30" y="232.63" width="1.63" height="48.72"/>
<rect x="473.93" y="233.70" width="1.63" height="47.65"/>
<rect x="475.55" y="238.99" width="1.63" height="42.36"/>
<rect x="477.18" y="240.75" width="1.63" height="40.60"/>
<rect x="478.81" y="246.73" width="1.63" height="34.62"/>
<rect x="480.44" y="254.93" width="1.63" height="26.42"/>
<rect x="482.06" y="251.10" width="1.63" height="30.25"/>
<rect x="483.69" y="211.06" width="1.63" height="70.29"/>
</g>
<g fill="#2ca02c" fill-opacity="0.55" stroke="#000000" stroke-opacity="0.3" stroke-width="0.5">
<rect x="322.63" y="210.33" width="1.63" height="71.02"/>
<rect x="324.26" y="270.54" width="1.63" height="10.81"/>
<rect x="325.89" y="271.06" width="1.63" height="10.29"/>
<rect x="327.51" y="274.13" width="1.63" height="7.22"/>
<rect x="329.14" y="275.59" width="1.63" height="5.76"/>
<rect x="330.77" y="276.62" width="1.63" height="4.73"/>
<rect x="332.39" y="273.72" width="1.63" height="7.63"/>
<rect x="334.02" y="273.93" width="1.63" height="7.42"/>
<rect x="335.65" y="273.32" width="1.63" height="8.03"/>
<rect x="337.28" y="272.51" width="1.63" height="8.84"/>
<rect x="338.90" y="273.22" width="1.63" height="8.13"/>
<rect x="340.53" y="269.67" width="1.63" height="11.68"/>
<rect x="342.16" y="270.84" width="1.63" height="10.51"/>
<rect x="343.78" y="269.54" width="1.63" height="11.81"/>
<rect x="345.41" y="267.14" width="1.63" height="14.21"/>
<rect x="347.04" y="269.25" width="1.63" height="12.10"/>
<rect x="348.66" y="268.60" width="1.63" height="12.75"/>
<rect x="350.29" y="265.73" width="1.63" height="15.62"/>
<rect x="351.92" y="266.09" width="1.63" height="15.26"/>
<rect x="353.54" y="264.25" width="1.63" height="17.10"/>
<rect x="355.17" y="264.98" width="1.63" height="16.37"/>
<rect x="356.80" y="263.25" width="1.63" height="18.10"/>
<rect x="358.42" y="263.18" width="1.63" height="18.17"/>
<rect x="360.05" y="257.15" width="1.63" height="24.20"/>
<rect x="361.68" y="255.12" width="1.63" height="26.23"/>
<rect x="363.30" y="256.87" width="1.63" height="24.48"/>
<rect x="364.93" y="254.75" width="1.63" height="26.60"/>
<rect x="366.56" y="253.81" width="1.63" height="27.54"/>
<rect x="368.19" y="245.97" width="1.63" height="35.38"/>
<rect x="369.81" y="247.93" width="1.63" height="33.42"/>
<rect x="371.44" y="248.74" width="1.63" height="32.61"/>
<rect x="373.07" y="245.21" width="1.63" height="36.14"/>
<rect x="374.69" y="242.19" width="1.63" height="39.16"/>
<rect x="376.32" y="246.79" width="1.63" height="34.56"/>
<rect x="377.95" y="242.24" width="1.63" height="39.11"/>
<rect x="379.57" y="241.50" width="1.63" height="39.85"/>
<rect x="381.20" y="241.95" width="1.63" height="39.40"/>
<rect x="382.83" y="239.13" width="1.63" height="42.22"/>
<rect x="384.45" y="237.10" width="1.63" height="44.25"/>
<rect x="386.08" y="238.96" width="1.63" height="42.39"/>
<rect x="387.71" y="238.82" width="1.63" height="42.53"/>
<rect x="389.33" y="234.49" width="1.63" height="46.86"/>
<rect x="390.96" y="235.30" width="1.63" height="46.05"/>
<rect x="392.59" y="233.14" width="1.63" height="48.21"/>
<rect x="394.21" y="227.37" width="1.63" height="53.98"/>
<rect x="395.84" y="229.87" width="1.63" height="51.48"/>
<rect x="397.47" y="229.38" width="1.63" height="51.97"/>
<rect x="399.09" y="231.45" width="1.63" height="49.90"/>
<rect x="400.72" y="226.28" width="1.63" height="55.07"/>
<rect x="402.35" y="225.82" width="1.63" height="55.53"/>
<rect x="403.97" y="223.26" width="1.63" height="58.09"/>
<rect x="405.60" y="220.11" width="1.63" height="61.24"/>
<rect x="407.23" y="216.42" width="1.63" height="64.93"/>
<rect x="408.86" y="215.04" width="1.63" height="66.31"/>
<rect x="410.48" y="212.56" width="1.63" height="68.79"/>
<rect x="412.11" y="208.11" width="1.63" height="73.24"/>
<rect x="413.74" y="208.87" width="1.63" height="72.48"/>
<rect x="415.36" y="206.54" width="1.63" height="74.81"/>
<rect x="416.99" y="203.41" width="1.63" height="77.94"/>
<rect x="418.62" y="196.41" width="1.63" height="84.94"/>
<rect x="420.24" y="199.67" width="1.63" height="81.68"/>
<rect x="421.87" y="191.79" width="1.63" height="89.56"/>
<rect x="423.50" y="187.39" width="1.63" height="93.96"/>
<rect x="425.12" y="182.86" width="1.63" height="98.49"/>
<rect x="426.75" y="186.73" width="1.63" height="94.62"/>
<rect x="428.38" y="181.50" width="1.63" height="99.85"/>
<rect x="430.00" y="180.45" width="1.63" height="100.90"/>
<rect x="431.63" y="181.72" width="1.63" height="99.63"/>
<rect x="433.26" y="179.44" width="1.63" height="101.91"/>
<rect x="434.88" y="180.37" width="1.63" height="100.98"/>
<rect x="436.51" y="183.91" width="1.63" height="97.44"/>
<rect x="438.14" y="180.99" width="1.63" height="100.36"/>
<rect x="439.76" y="183.50" width="1.63" height="97.85"/>
<rect x="441.39" y="173.46" width="1.63" height="107.89"/>
<rect x="443.02" y="181.97" width="1.63" height="99.38"/>
<rect x="444.65" y="184.95" width="1.63" height="96.40"/>
<rect x="446.27" y="189.56" width="1.63" height="91.79"/>
<rect x="447.90" y="185.86" width="1.63" height="95.49"/>
<rect x="449.53" y="186.58" width="1.63" height="94.77"/>
<rect x="451.15" y="191.05" width="1.63" height="90.30"/>
<rect x="452.78" y="199.22" width="1.63" height="82.13"/>
<rect x="454.41" y="201.68" width="1.63" height="79.67"/>
<rect x="456.03" y="206.18" width="1.63" height="75.17"/>
<rect x="457.66" y="206.20" width="1.63" height="75.15"/>
<rect x="459.29" y="212.33" width="1.63" height="69.02"/>
<rect x="460.91" y="212.78" width="1.63" height="68.57"/>
<rect x="462.54" y="209.82" width="1.63" height="71.53"/>
<rect x="464.17" y="223.62" width="1.63" height="57.73"/>
<rect x="465.79" y="221.24" width="1.63" height="60.11"/>
<rect x="467.42" y="222.88" width="1.63" height="58.47"/>
<rect x="469.05" y="229.76" width="1.63" height="51.59"/>
<rect x="470.67" y="225.82" width="1.63" height="55.53"/>
<rect x="472.30" y="232.53" width="1.63" height="48.82"/>
<rect x="473.93" y="234.03" width="1.63" height="47.32"/>
<rect x="475.55" y="236.75" width="1.63" height="44.60"/>
<rect x="477.18" y="238.01" width="1.63" height="43.34"/>
<rect x="478.81" y="246.63" width="1.63" height="34.72"/>
<rect x="480.44" y="250.29" width="1.63" height="31.06"/>
<rect x="482.06" y="254.47" width="1.63" height="26.88"/>
<rect x="483.69" y="211.06" width="1.63" height="70.29"/>
</g>
<g fill="#d62728" fill-opacity="0.55" stroke="#000000" stroke-opacity="0.3" stroke-width="0.5">
<rect x="322.63" y="209.75" width="1.63" height="71.60"/>
<rect x="324.26" y="270.07" width="1.63" height="11.28"/>
<rect x="325.89" y="270.03" width="1.63" height="11.32"/>
<rect x="327.51" y="275.26" width="1.63" height="6.09"/>
<rect x="329.14" y="273.66" width="1.63" height="7.69"/>
<rect x="330.77" y="275.60" width="1.63" height="5.75"/>
<rect x="332.39" y="273.31" width="1.63" height="8.04"/>
<rect x="334.02" y="274.01" width="1.63" height="7.34"/>
<rect x="335.65" y="272.74" width="1.63" height="8.61"/>
<rect x="337.28" y="270.86" width="1.63" height="10.49"/>
<rect x="338.90" y="270.90" width="1.63" height="10.45"/>
<rect x="340.53" y="270.01" width="1.63" height="11.34"/>
<rect x="342.16" y="270.12" width="1.63" height="11.23"/>
<rect x="343.78" y="268.00" width="1.63" height="13.35"/>
<rect x="345.41" y="269.10" width="1.63" height="12.25"/>
<rect x="347.04" y="271.37" width="1.63" height="9.98"/>
<rect x="348.66" y="268.48" width="1.63" height="12.87"/>
<rect x="350.29" y="267.43" width="1.63" height="13.92"/>
<rect x="351.92" y="266.55" width="1.63" height="14.80"/>
<rect x="353.54" y="263.35" width="1.63" height="18.00"/>
<rect x="355.17" y="262.53" width="1.63" height="18.82"/>
<rect x="356.80" y="265.30" width="1.63" height="16.05"/>
<rect x="358.42" y="259.49" width="1.63" height="21.86"/>
<rect x="360.05" y="261.21" width="1.63" height="20.14"/>
<rect x="361.68" y="259.92" width="1.63" height="21.43"/>
<rect x="363.30" y="258.78" width="1.63" height="22.57"/>
<rect x="364.93" y="256.79" width="1.63" height="24.56"/>
<rect x="366.56" y="253.74" width="1.63" height="27.61"/>
<rect x="368.19" y="256.31" width="1.63" height="25.04"/>
<rect x="369.81" y="252.92" width="1.63" height="28.43"/>
<rect x="371.44" y="252.73" width="1.63" height="28.62"/>
<rect x="373.07" y="250.23" width="1.63" height="31.12"/>
<rect x="374.69" y="249.35" width="1.63" height="32.00"/>
<rect x="376.32" y="246.35" width="1.63" height="35.00"/>
<rect x="377.95" y="245.19" width="1.63" height="36.16"/>
<rect x="379.57" y="248.38" width="1.63" height="32.97"/>
<rect x="381.20" y="244.75" width="1.63" height="36.60"/>
<rect x="382.83" y="247.98" width="1.63" height="33.37"/>
<rect x="384.45" y="242.95" width="1.63" height="38.40"/>
<rect x="386.08" y="240.52" width="1.63" height="40.83"/>
<rect x="387.71" y="241.63" width="1.63" height="39.72"/>
<rect x="389.33" y="234.11" width="1.63" height="47.24"/>
<rect x="390.96" y="237.56" width="1.63" height="43.79"/>
<rect x="392.59" y="239.16" width="1.63" height="42.19"/>
<rect x="394.21" y="234.52" width="1.63" height="46.83"/>
<rect x="395.84" y="235.54" width="1.63" height="45.81"/>
<rect x="397.47" y="230.57" width="1.63" height="50.78"/>
<rect x="399.09" y="230.65" width="1.63" height="50.70"/>
<rect x="400.72" y="229.50" width="1.63" height="51.85"/>
<rect x="402.35" y="236.12" width="1.63" height="45.23"/>
<rect x="403.97" y="229.05" width="1.63" height="52.30"/>
<rect x="405.60" y="221.29" width="1.63" height="60.06"/>
<rect x="407.23" y="217.81" width="1.63" height="63.54"/>
<rect x="408.86" y="214.58" width="1.63" height="66.77"/>
<rect x="410.48" y="213.05" width="1.63" height="68.30"/>
<rect x="412.11" y="207.44" width="1.63" height="73.91"/>
<rect x="413.74" y="204.28" width="1.63" height="77.07"/>
<rect x="415.36" y="202.30" width="1.63" height="79.05"/>
<rect x="416.99" y="196.91" width="1.63" height="84.44"/>
<rect x="418.62" y="194.36" width="1.63" height="86.99"/>
<rect x="420.24" y="195.73" width="1.63" height="85.62"/>
<rect x="421.87" y="188.79" width="1.63" height="92.56"/>
<rect x="423.50" y="183.90" width="1.63" height="97.45"/>
<rect x="425.12" y="185.32" width="1.63" height="96.03"/>
<rect x="426.75" y="190.92" width="1.63" height="90.43"/>
<rect x="428.38" y="183.52" width="1.63" height="97.83"/>
<rect x="430.00" y="180.28" width="1.63" height="101.07"/>
<rect x="431.63" y="173.09" width="1.63" height="108.26"/>
<rect x="433.26" y="185.89" width="1.63" height="95.46"/>
<rect x="434.88" y="184.82" width="1.63" height="96.53"/>
<rect x="436.51" y="174.17" width="1.63" height="107.18"/>
<rect x="438.14" y="177.42" width="1.63" height="103.93"/>
<rect x="439.76" y="182.03" width="1.63" height="99.32"/>
<rect x="441.39" y="177.92" width="1.63" height="103.43"/>
<rect x="443.02" y="180.53" width="1.63" height="100.82"/>
<rect x="444.65" y="188.97" width="1.63" height="92.38"/>
<rect x="446.27" y="186.35" width="1.63" height="95.00"/>
<rect x="447.90" y="183.06" width="1.63" height="98.29"/>
<rect x="449.53" y="189.65" width="1.63" height="91.70"/>
<rect x="451.15" y="183.08" width="1.63" height="98.27"/>
<rect x="452.78" y="196.68" width="1.63" height="84.67"/>
<rect x="454.41" y="200.11" width="1.63" height="81.24"/>
<rect x="456.03" y="203.88" width="1.63" height="77.47"/>
<rect x="457.66" y="207.22" width="1.63" height="74.13"/>
<rect x="459.29" y="210.30" width="1.63" height="71.05"/>
<rect x="460.91" y="208.98" width="1.63" height="72.37"/>
<rect x="462.54" y="209.43" width="1.63" height="71.92"/>
<rect x="464.17" y="219.23" width="1.63" height="62.12"/>
<rect x="465.79" y="225.46" width="1.63" height="55.89"/>
<rect x="467.42" y="224.40" width="1.63" height="56.95"/>
<rect x="469.05" y="225.72" width="1.63" height="55.63"/>
<rect x="470.67" y="224.57" width="1.63" height="56.78"/>
<rect x="472.30" y="230.41" width="1.63" height="50.94"/>
<rect x="473.93" y="235.15" width="1.63" height="46.20"/>
<rect x="475.55" y="231.69" width="1.63" height="49.66"/>
<rect x="477.18" y="244.36" width="1.63" height="36.99"/>
<rect x="478.81" y="248.11" width="1.63" height="33.24"/>
<rect x="480.44" y="246.13" width="1.63" height="35.22"/>
<rect x="482.06" y="250.82" width="1.63" height="30.53"/>
<rect x="483.69" y="211.06" width="1.63" height="70.29"/>
</g>
<g fill="#9467bd" fill-opacity="0.55" stroke="#000000" stroke-opacity="0.3" stroke-width="0.5">
<rect x="322.63" y="210.33" width="1.63" height="71.02"/>
<rect x="324.26" y="270.41" width="1.63" height="10.94"/>
<rect x="325.89" y="271.49" width="1.63" height="9.86"/>
<rect x="327.51" y="275.49" width="1.63" height="5.86"/>
<rect x="329.14" y="274.95" width="1.63" height="6.40"/>
<rect x="330.77" y="272.56" width="1.63" height="8.79"/>
<rect x="332.39" y="275.85" width="1.63" height="5.50"/>
<rect x="334.02" y="274.37" width="1.63" height="6.98"/>
<rect x="335.65" y="272.48" width="1.63" height="8.87"/>
<rect x="337.28" y="274.13" width="1.63" height="7.22"/>
<rect x="338.90" y="270.35" width="1.63" height="11.00"/>
<rect x="340.53" y="268.74" width="1.63" height="12.61"/>
<rect x="342.16" y="270.20" width="1.63" height="11.15"/>
<rect x="343.78" y="271.44" width="1.63" height="9.91"/>
<rect x="345.41" y="269.46" width="1.63" height="11.89"/>
<rect x="347.04" y="270.44" width="1.63" height="10.91"/>
<rect x="348.66" y="268.69" width="1.63" height="12.66"/>
<rect x="350.29" y="267.75" width="1.63" height="13.60"/>
<rect x="351.92" y="266.74" width="1.63" height="14.61"/>
<rect x="353.54" y="266.74" width="1.63" height="14.61"/>
<rect x="355.17" y="261.70" width="1.63" height="19.65"/>
<rect x="356.80" y="262.41" width="1.63" height="18.94"/>
<rect x="358.42" y="260.38" width="1.63" height="20.97"/>
<rect x="360.05" y="259.86" width="1.63" height="21.49"/>
<rect x="361.68" y="259.42" width="1.63" height="21.93"/>
<rect x="363.30" y="256.65" width="1.63" height="24.70"/>
<rect x="364.93" y="255.91" width="1.63" height="25.44"/>
<rect x="366.56" y="254.30" width="1.63" height="27.05"/>
<rect x="368.19" y="253.16" width="1.63" height="28.19"/>
<rect x="369.81" y="253.01" width="1.63" height="28.34"/>
<rect x="371.44" y="250.40" width="1.63" height="30.95"/>
<rect x="373.07" y="248.55" width="1.63" height="32.80"/>
<rect x="374.69" y="245.54" width="1.63" height="35.81"/>
<rect x="376.32" y="248.63" width="1.63" height="32.72"/>
<rect x="377.95" y="243.72" width="1.63" height="37.63"/>
<rect x="379.57" y="251.11" width="1.63" height="30.24"/>
<rect x="381.20" y="246.87" width="1.63" height="34.48"/>
<rect x="382.83" y="243.26" width="1.63" height="38.09"/>
<rect x="384.45" y="243.54" width="1.63" height="37.81"/>
<rect x="386.08" y="239.56" width="1.63" height="41.79"/>
<rect x="387.71" y="244.39" width="1.63" height="36.96"/>
<rect x="389.33" y="241.00" width="1.63" height="40.35"/>
<rect x="390.96" y="239.91" width="1.63" height="41.44"/>
<rect x="392.59" y="233.66" width="1.63" height="47.69"/>
<rect x="394.21" y="227.56" width="1.63" height="53.79"/>
<rect x="395.84" y="232.67" width="1.63" height="48.68"/>
<rect x="397.47" y="229.13" width="1.63" height="52.22"/>
<rect x="399.09" y="228.99" width="1.63" height="52.36"/>
<rect x="400.72" y="223.25" width="1.63" height="58.10"/>
<rect x="402.35" y="223.57" width="1.63" height="57.78"/>
<rect x="403.97" y="221.70" width="1.63" height="59.65"/>
<rect x="405.60" y="223.32" width="1.63" height="58.03"/>
<rect x="407.23" y="218.97" width="1.63" height="62.38"/>
<rect x="408.86" y="217.68" width="1.63" height="63.67"/>
<rect x="410.48" y="214.94" width="1.63" height="66.41"/>
<rect x="412.11" y="211.25" width="1.63" height="70.10"/>
<rect x="413.74" y="205.45" width="1.63" height="75.90"/>
<rect x="415.36" y="209.49" width="1.63" height="71.86"/>
<rect x="416.99" y="195.18" width="1.63" height="86.17"/>
<rect x="418.62" y="196.37" width="1.63" height="84.98"/>
<rect x="420.24" y="186.39" width="1.63" height="94.96"/>
<rect x="421.87" y="185.28" width="1.63" height="96.07"/>
<rect x="423.50" y="186.01" width="1.63" height="95.34"/>
<rect x="425.12" y="182.44" width="1.63" height="98.91"/>
<rect x="426.75" y="179.00" width="1.63" height="102.35"/>
<rect x="428.38" y="185.21" width="1.63" height="96.14"/>
<rect x="430.00" y="176.54" width="1.63" height="104.81"/>
<rect x="431.63" y="179.61" width="1.63" height="101.74"/>
<rect x="433.26" y="178.80" width="1.63" height="102.55"/>
<rect x="434.88" y="181.93" width="1.63" height="99.42"/>
<rect x="436.51" y="179.85" width="1.63" height="101.50"/>
<rect x="438.14" y="183.09" width="1.63" height="98.26"/>
<rect x="439.76" y="183.89" width="1.63" height="97.46"/>
<rect x="441.39" y="179.43" width="1.63" height="101.92"/>
<rect x="443.02" y="177.73" width="1.63" height="103.62"/>
<rect x="444.65" y="181.56" width="1.63" height="99.79"/>
<rect x="446.27" y="189.56" width="1.63" height="91.79"/>
<rect x="447.90" y="186.74" width="1.63" height="94.61"/>
<rect x="449.53" y="190.29" width="1.63" height="91.06"/>
<rect x="451.15" y="191.91" width="1.63" height="89.44"/>
<rect x="452.78" y="196.93" width="1.63" height="84.42"/>
<rect x="454.41" y="200.10" width="1.63" height="81.25"/>
<rect x="456.03" y="201.50" width="1.63" height="79.85"/>
<rect x="457.66" y="207.87" width="1.63" height="73.48"/>
<rect x="459.29" y="209.61" width="1.63" height="71.74"/>
<rect x="460.91" y="213.99" width="1.63" height="67.36"/>
<rect x="462.54" y="216.62" width="1.63" height="64.73"/>
<rect x="464.17" y="215.65" width="1.63" height="65.70"/>
<rect x="465.79" y="219.70" width="1.63" height="61.65"/>
<rect x="467.42" y="214.53" width="1.63" height="66.82"/>
<rect x="469.05" y="217.28" width="1.63" height="64.07"/>
<rect x="470.67" y="220.32" width="1.63" height="61.03"/>
<rect x="472.30" y="219.63" width="1.63" height="61.72"/>
<rect x="473.93" y="228.82" width="1.63" height="52.53"/>
<rect x="475.55" y="226.62" width="1.63" height="54.73"/>
<rect x="477.18" y="231.42" width="1.63" height="49.93"/>
<rect x="478.81" y="238.10" width="1.63" height="43.25"/>
<rect x="480.44" y="246.17" width="1.63" height="35.18"/>
<rect x="482.06" y="247.31" width="1.63" height="34.04"/>
<rect x="483.69" y="205.41" width="1.63" height="75.94"/>
</g>
<line x1="322.63" y1="281.35" x2="485.32" y2="281.35" stroke="#2a1a10" stroke-opacity="0.45" stroke-width="0.9"/>
<rect x="314.5" y="167.0" width="178.95" height="114.35000000000002" fill="none" stroke="#686868" stroke-width="1.1"/>
<line x1="322.63" y1="281.35" x2="322.63" y2="283.05" stroke="#555" stroke-width="0.6"/>
<text x="322.63" y="291.35" font-size="7.5" text-anchor="middle" textLength="9.88" lengthAdjust="spacingAndGlyphs">0.0</text>
<line x1="355.17" y1="281.35" x2="355.17" y2="283.05" stroke="#555" stroke-width="0.6"/>
<text x="355.17" y="291.35" font-size="7.5" text-anchor="middle" textLength="9.88" lengthAdjust="spacingAndGlyphs">0.2</text>
<line x1="387.71" y1="281.35" x2="387.71" y2="283.05" stroke="#555" stroke-width="0.6"/>
<text x="387.71" y="291.35" font-size="7.5" text-anchor="middle" textLength="9.88" lengthAdjust="spacingAndGlyphs">0.4</text>
<line x1="420.24" y1="281.35" x2="420.24" y2="283.05" stroke="#555" stroke-width="0.6"/>
<text x="420.24" y="291.35" font-size="7.5" text-anchor="middle" textLength="9.88" lengthAdjust="spacingAndGlyphs">0.6</text>
<line x1="452.78" y1="281.35" x2="452.78" y2="283.05" stroke="#555" stroke-width="0.6"/>
<text x="452.78" y="291.35" font-size="7.5" text-anchor="middle" textLength="9.88" lengthAdjust="spacingAndGlyphs">0.8</text>
<line x1="485.32" y1="281.35" x2="485.32" y2="283.05" stroke="#555" stroke-width="0.6"/>
<text x="485.32" y="291.35" font-size="7.5" text-anchor="middle" textLength="9.88" lengthAdjust="spacingAndGlyphs">1.0</text>
<line x1="312.8" y1="281.35" x2="314.5" y2="281.35" stroke="#555" stroke-width="0.6"/>
 <text x="311.20" y="284.85" font-size="7.5" text-anchor="end" textLength="3.95" lengthAdjust="spacingAndGlyphs">0</text>
<line x1="312.8" y1="252.36" x2="314.5" y2="252.36" stroke="#555" stroke-width="0.6"/>
 <text x="311.20" y="255.86" font-size="7.5" text-anchor="end" textLength="11.85" lengthAdjust="spacingAndGlyphs">200</text>
<line x1="312.8" y1="223.38" x2="314.5" y2="223.38" stroke="#555" stroke-width="0.6"/>
 <text x="311.20" y="226.88" font-size="7.5" text-anchor="end" textLength="11.85" lengthAdjust="spacingAndGlyphs">400</text>
<line x1="312.8" y1="194.39" x2="314.5" y2="194.39" stroke="#555" stroke-width="0.6"/>
 <text x="311.20" y="197.89" font-size="7.5" text-anchor="end" textLength="11.85" lengthAdjust="spacingAndGlyphs">600</text>
<text x="403.98" y="301.15" font-size="8.6" text-anchor="middle" textLength="63.6" lengthAdjust="spacingAndGlyphs">normalized values</text>
<text transform="translate(295.4,224.88) rotate(-90)" font-size="8.6" text-anchor="middle" textLength="18.2" lengthAdjust="spacingAndGlyphs">count</text>
<text x="403.98" y="164.20" font-size="10.2" text-anchor="middle" textLength="89.6" lengthAdjust="spacingAndGlyphs">(d) Reflectance bands</text>
<rect x="497.4" y="193.4" width="42.9" height="61.3" rx="1.2" fill="#fff" stroke="#d0d0d0" stroke-width="0.6"/>
<rect x="500.40" y="197.10" width="15.8" height="5.4" fill="#1f77b4" fill-opacity="0.5" stroke="#222" stroke-opacity="0.8" stroke-width="0.45"/>
<text x="522.50" y="202.50" font-size="8.0" textLength="8.4" lengthAdjust="spacingAndGlyphs">B6</text>
<rect x="500.40" y="208.85" width="15.8" height="5.4" fill="#ff7f0e" fill-opacity="0.5" stroke="#222" stroke-opacity="0.8" stroke-width="0.45"/>
<text x="522.50" y="214.25" font-size="8.0" textLength="8.4" lengthAdjust="spacingAndGlyphs">B7</text>
<rect x="500.40" y="220.60" width="15.8" height="5.4" fill="#2ca02c" fill-opacity="0.5" stroke="#222" stroke-opacity="0.8" stroke-width="0.45"/>
<text x="522.50" y="226.00" font-size="8.0" textLength="8.4" lengthAdjust="spacingAndGlyphs">B8</text>
<rect x="500.40" y="232.35" width="15.8" height="5.4" fill="#d62728" fill-opacity="0.5" stroke="#222" stroke-opacity="0.8" stroke-width="0.45"/>
<text x="522.50" y="237.75" font-size="8.0" textLength="14.0" lengthAdjust="spacingAndGlyphs">B8A</text>
<rect x="500.40" y="244.10" width="15.8" height="5.4" fill="#9467bd" fill-opacity="0.5" stroke="#222" stroke-opacity="0.8" stroke-width="0.45"/>
<text x="522.50" y="249.50" font-size="8.0" textLength="8.4" lengthAdjust="spacingAndGlyphs">B9</text>
</svg></body></html>
